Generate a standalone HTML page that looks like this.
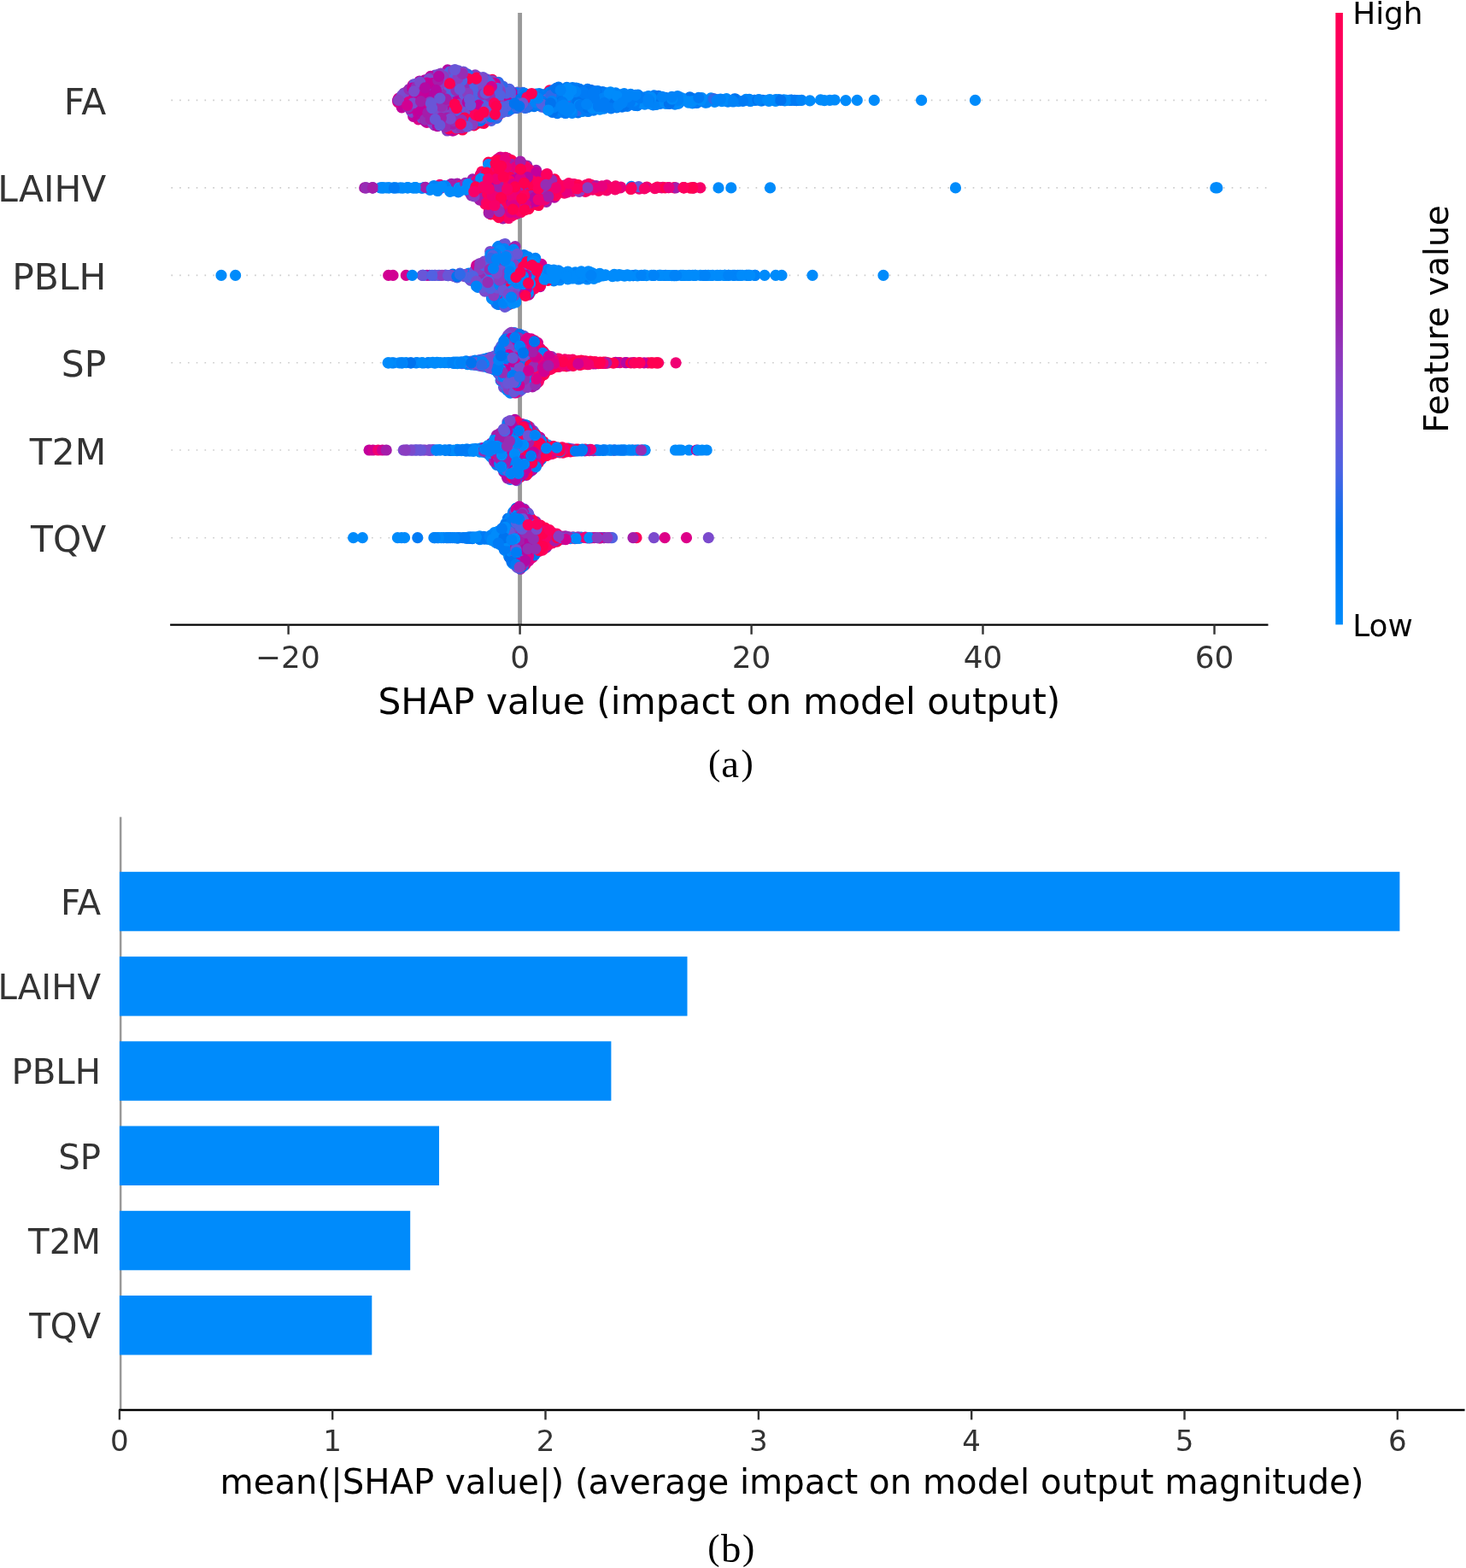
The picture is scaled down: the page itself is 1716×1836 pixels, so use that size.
<!DOCTYPE html>
<html lang="en"><head><meta charset="utf-8"><title>SHAP summary plots</title>
<style>html,body{margin:0;padding:0;background:#fff}body{width:1716px;height:1836px;overflow:hidden}svg{display:block}text{font-family:"DejaVu Sans","Liberation Sans",sans-serif}.t{fill:#333}.k{fill:#000}.s{font-family:"Liberation Serif","DejaVu Serif",serif;fill:#000}</style></head><body>
<svg width="1716" height="1836" viewBox="0 0 1716 1836">
<rect width="1716" height="1836" fill="#fff"/>
<defs><linearGradient id="cb" x1="0" y1="1" x2="0" y2="0">
<stop offset="0" stop-color="#008bfb"/>
<stop offset="0.05" stop-color="#0084f9"/>
<stop offset="0.1" stop-color="#007cf5"/>
<stop offset="0.15" stop-color="#0074f0"/>
<stop offset="0.2" stop-color="#236cea"/>
<stop offset="0.25" stop-color="#4b63e3"/>
<stop offset="0.3" stop-color="#6359da"/>
<stop offset="0.35" stop-color="#754fd1"/>
<stop offset="0.4" stop-color="#8443c6"/>
<stop offset="0.45" stop-color="#9135ba"/>
<stop offset="0.5" stop-color="#9b23ad"/>
<stop offset="0.55" stop-color="#ab15a7"/>
<stop offset="0.6" stop-color="#bb00a0"/>
<stop offset="0.65" stop-color="#c80098"/>
<stop offset="0.7" stop-color="#d5008f"/>
<stop offset="0.75" stop-color="#e00086"/>
<stop offset="0.8" stop-color="#e9007c"/>
<stop offset="0.85" stop-color="#f20072"/>
<stop offset="0.9" stop-color="#f90067"/>
<stop offset="0.95" stop-color="#fe005c"/>
<stop offset="1" stop-color="#ff0051"/>
</linearGradient></defs>
<g id="beeswarm">
<line x1="608.6" y1="15.0" x2="608.6" y2="731.4" stroke="#999" stroke-width="4.9"/>
<line x1="200.4" y1="117.4" x2="1484.5" y2="117.4" stroke="#ccc" stroke-width="1.63" stroke-dasharray="1.63 8.144"/>
<line x1="200.4" y1="219.9" x2="1484.5" y2="219.9" stroke="#ccc" stroke-width="1.63" stroke-dasharray="1.63 8.144"/>
<line x1="200.4" y1="322.4" x2="1484.5" y2="322.4" stroke="#ccc" stroke-width="1.63" stroke-dasharray="1.63 8.144"/>
<line x1="200.4" y1="424.8" x2="1484.5" y2="424.8" stroke="#ccc" stroke-width="1.63" stroke-dasharray="1.63 8.144"/>
<line x1="200.4" y1="527.0" x2="1484.5" y2="527.0" stroke="#ccc" stroke-width="1.63" stroke-dasharray="1.63 8.144"/>
<line x1="200.4" y1="629.7" x2="1484.5" y2="629.7" stroke="#ccc" stroke-width="1.63" stroke-dasharray="1.63 8.144"/>
<g fill="none" stroke-width="13.2" stroke-linecap="round">
<path stroke="#d10092" d="M542.6 133.5h0"/>
<path stroke="#c3009b" d="M486.6 112.7h0M514.9 130.2h0M565.6 97.5h0M504.9 143.1h0M506.1 110.4h0M532.4 140.5h0M570.0 120.9h0M534.5 104.7h0M497.4 100.5h0"/>
<path stroke="#008bfb" d="M777.6 118.4h0M685.8 118.6h0M873.2 116.4h0M793.3 119.9h0M800.9 116.0h0M781.9 119.5h0M731.1 118.5h0M737.5 122.1h0M833.5 116.1h0M791.0 118.6h0M811.0 116.2h0M708.4 122.9h0"/>
<path stroke="#fe005d" d="M606.4 117.4h0M577.5 131.4h0"/>
<path stroke="#8a3dc1" d="M470.7 122.2h0M521.5 109.3h0M534.0 147.5h0M539.1 108.2h0M502.8 118.6h0M553.4 142.4h0M553.4 90.1h0M519.4 111.6h0M485.0 124.5h0M531.4 119.7h0M544.3 123.1h0"/>
<path stroke="#5261e1" d="M610.1 122.0h0M542.4 92.0h0M522.9 111.7h0M559.7 100.2h0M634.0 125.1h0M568.6 102.2h0M553.8 94.7h0M580.8 123.2h0M591.3 122.1h0M547.4 114.0h0M557.9 140.3h0M591.5 119.8h0M603.5 125.9h0"/>
<path stroke="#b408a3" d="M545.7 112.8h0M509.4 145.4h0M486.5 113.9h0M543.1 127.8h0M471.0 121.0h0M531.8 83.9h0M498.6 94.9h0M567.7 105.7h0M495.5 106.8h0M558.5 120.8h0"/>
<path stroke="#007bf5" d="M764.2 116.3h0M638.3 118.6h0M665.9 125.4h0M816.9 115.3h0M764.3 118.5h0M631.1 109.7h0M670.1 104.8h0M675.7 115.2h0M746.1 123.6h0M736.3 112.7h0M743.6 123.5h0M709.2 118.5h0M681.2 125.7h0M618.4 124.2h0M670.4 123.1h0"/>
<path stroke="#a41daa" d="M517.6 93.1h0M540.4 117.4h0M600.9 122.3h0"/>
<path stroke="#ff0051" d="M503.2 106.9h0M552.4 124.2h0M544.7 118.5h0M546.1 96.8h0M585.8 124.4h0M571.2 116.3h0M528.3 87.6h0M537.4 130.1h0M565.6 117.4h0"/>
<path stroke="#6956d7" d="M541.7 103.6h0M508.9 105.7h0M565.4 90.5h0M477.0 116.2h0M555.6 132.2h0M541.9 110.5h0M544.0 101.4h0M565.1 115.1h0M498.8 106.1h0"/>
<path stroke="#7b4acd" d="M502.5 91.5h0M528.3 132.3h0M506.6 123.2h0M506.4 90.5h0M546.9 130.0h0M512.7 99.9h0M526.5 110.5h0M490.5 100.9h0"/>
<path stroke="#0083f8" d="M924.1 117.4h0M816.0 116.4h0M743.4 116.2h0M645.4 129.1h0M614.3 116.3h0M698.5 123.3h0M850.6 118.3h0M697.6 125.7h0M670.6 112.8h0M733.6 120.9h0M778.1 117.4h0M732.5 116.2h0M728.1 116.3h0M705.8 113.0h0M635.7 116.3h0"/>
<path stroke="#2f6ae9" d="M528.2 83.0h0M597.8 115.0h0M848.1 116.5h0M635.4 124.0h0M589.1 116.2h0"/>
<path stroke="#962db4" d="M485.2 123.3h0M535.2 85.0h0M484.4 119.8h0M493.9 97.4h0M494.0 137.4h0M565.0 143.1h0M511.8 140.7h0M541.9 93.2h0M524.8 120.8h0"/>
<path stroke="#dd0088" d="M499.6 143.3h0M488.4 110.3h0M507.5 124.4h0"/>
<path stroke="#0073ef" d="M779.0 114.4h0M679.7 129.3h0M648.5 127.9h0M728.1 125.2h0M613.9 124.2h0M571.9 100.3h0M614.5 118.5h0M699.8 117.4h0M652.8 131.5h0"/>
<path stroke="#d10092" d="M500.8 103.9h0"/>
<path stroke="#b408a3" d="M531.3 148.6h0M520.5 139.4h0M523.8 94.4h0M523.9 81.8h0M500.8 133.2h0M565.9 112.7h0M482.4 129.2h0M489.9 102.1h0"/>
<path stroke="#0083f8" d="M908.1 116.6h0M716.0 121.0h0M652.3 115.1h0M686.3 115.0h0M743.7 115.0h0M906.0 117.4h0M872.8 117.4h0M586.4 103.3h0M682.2 126.9h0M861.2 116.1h0M685.6 127.0h0M650.9 104.5h0M673.3 121.8h0M754.7 113.8h0M795.2 113.6h0M804.2 117.4h0"/>
<path stroke="#0073ef" d="M926.3 117.2h0M672.8 109.6h0M646.1 113.9h0M579.6 136.1h0M548.1 106.0h0"/>
<path stroke="#5261e1" d="M535.2 137.1h0M513.8 133.7h0M472.1 124.6h0M593.2 105.6h0M585.6 113.9h0M504.8 140.8h0M578.9 104.6h0M571.0 131.1h0M552.2 121.9h0M558.1 93.3h0M567.2 96.4h0M601.5 110.1h0"/>
<path stroke="#8a3dc1" d="M523.6 130.0h0M524.8 116.3h0M472.1 115.0h0M500.2 108.4h0M502.5 105.0h0M558.3 132.3h0M502.7 132.6h0M509.5 141.9h0M498.8 130.9h0M526.8 140.4h0"/>
<path stroke="#dd0088" d="M522.5 131.3h0M489.7 139.8h0"/>
<path stroke="#fe005d" d="M575.3 132.3h0M530.1 138.2h0"/>
<path stroke="#2f6ae9" d="M617.0 125.4h0M625.8 117.4h0M582.7 110.4h0"/>
<path stroke="#ff0051" d="M555.3 106.0h0M544.0 98.0h0M572.1 111.7h0M566.4 144.3h0M612.5 111.7h0M529.0 99.0h0M556.3 115.1h0M607.0 113.9h0M576.3 93.4h0M575.6 103.7h0M559.3 128.9h0M575.6 110.5h0M563.5 95.2h0"/>
<path stroke="#7b4acd" d="M528.9 95.6h0M569.9 138.4h0M569.8 92.9h0M549.6 111.7h0M509.2 88.2h0M538.1 109.3h0M531.0 110.5h0M544.5 131.1h0M491.5 109.2h0M556.5 89.0h0M481.9 129.1h0M557.8 144.9h0M570.9 123.1h0"/>
<path stroke="#962db4" d="M518.9 127.8h0M524.8 125.4h0M508.9 109.2h0M550.5 92.4h0M503.3 96.4h0M521.5 95.4h0M487.4 115.0h0M548.5 103.7h0M519.7 144.0h0"/>
<path stroke="#a41daa" d="M534.1 120.9h0M521.8 125.5h0"/>
<path stroke="#6956d7" d="M558.3 105.9h0M616.9 123.1h0M541.5 150.8h0M494.0 124.5h0M538.7 119.7h0M542.9 89.7h0"/>
<path stroke="#008bfb" d="M883.5 117.4h0M699.2 107.9h0M809.7 117.4h0M713.6 118.6h0M836.5 119.3h0M759.6 113.0h0M779.2 121.4h0"/>
<path stroke="#c3009b" d="M532.2 152.1h0M494.5 126.8h0M490.1 131.5h0M471.1 117.4h0M470.5 113.8h0M572.9 124.3h0M522.1 90.8h0M504.0 89.4h0M466.6 118.5h0M520.1 91.9h0M526.7 149.5h0"/>
<path stroke="#007bf5" d="M721.9 125.9h0M612.4 110.6h0M725.7 115.2h0M838.4 116.5h0M709.7 117.4h0M652.1 109.2h0M689.4 121.0h0M653.2 129.1h0M609.1 111.6h0M795.7 118.7h0M680.2 109.1h0M719.7 116.2h0M705.2 119.8h0M774.8 115.4h0M806.7 114.6h0M682.4 113.8h0M637.1 115.2h0M772.8 121.3h0M657.8 120.9h0M652.3 132.7h0M681.1 110.3h0M697.5 118.6h0M653.8 102.1h0"/>
<path stroke="#ff0051" d="M570.5 135.7h0M607.9 119.7h0M571.6 108.3h0M579.0 126.7h0M536.9 112.8h0M550.7 111.7h0M586.6 109.2h0"/>
<path stroke="#b408a3" d="M525.3 118.5h0M511.4 134.9h0M489.8 128.0h0M533.9 134.7h0M486.9 135.1h0M524.1 108.2h0"/>
<path stroke="#0073ef" d="M705.3 109.1h0M674.3 106.3h0M566.0 126.7h0M677.1 104.1h0M568.3 94.0h0M601.1 112.5h0M672.5 127.4h0M635.3 110.8h0M617.2 121.9h0M821.1 118.7h0M751.9 116.2h0M625.2 124.6h0"/>
<path stroke="#dd0088" d="M468.6 116.3h0"/>
<path stroke="#a41daa" d="M515.6 98.7h0M511.7 95.2h0"/>
<path stroke="#7b4acd" d="M519.3 137.1h0M516.0 97.6h0M525.2 102.5h0M526.7 93.3h0M550.9 127.6h0M513.8 106.9h0M537.6 128.9h0M534.9 112.8h0M535.0 116.2h0"/>
<path stroke="#d10092" d="M483.2 99.7h0M515.2 102.2h0"/>
<path stroke="#008bfb" d="M682.3 106.7h0M805.8 120.2h0M720.0 124.7h0M875.8 117.4h0M741.8 121.1h0M907.2 118.2h0M832.2 114.8h0M656.6 108.0h0M936.2 117.5h0M777.1 116.4h0M754.0 117.4h0M756.2 115.0h0M728.6 114.1h0"/>
<path stroke="#c3009b" d="M565.6 141.9h0M485.5 130.4h0M521.6 98.9h0M495.7 123.3h0M492.2 136.2h0M478.4 106.8h0M530.0 153.2h0M556.6 139.0h0M478.3 115.1h0"/>
<path stroke="#962db4" d="M496.1 120.8h0M526.7 91.0h0M578.7 122.1h0M528.6 142.7h0M538.6 120.9h0"/>
<path stroke="#fe005d" d="M578.9 129.1h0M525.1 124.3h0"/>
<path stroke="#2f6ae9" d="M588.3 126.8h0M652.1 125.6h0M598.2 116.2h0M629.9 121.0h0M576.4 107.1h0M648.9 122.1h0M697.7 116.2h0"/>
<path stroke="#5261e1" d="M542.7 147.4h0M596.3 104.4h0M605.5 108.2h0M598.6 117.4h0M572.4 102.5h0M487.4 104.4h0M549.0 135.7h0"/>
<path stroke="#8a3dc1" d="M512.9 108.1h0M523.5 153.0h0M525.1 148.4h0M526.2 101.3h0M566.1 103.4h0M511.9 129.1h0M515.5 136.1h0M561.4 133.5h0M518.8 117.4h0M575.3 119.7h0M492.9 103.3h0"/>
<path stroke="#0083f8" d="M777.8 119.4h0M640.4 109.3h0M882.9 117.4h0M641.5 113.9h0M682.7 128.1h0M769.9 113.5h0M668.3 127.7h0M668.8 114.0h0M852.0 119.2h0M662.9 115.1h0M646.7 115.1h0M691.3 119.8h0M669.5 103.6h0M694.8 129.2h0M788.7 119.8h0M654.3 117.4h0M744.5 112.5h0M748.8 117.4h0M790.0 122.2h0"/>
<path stroke="#6956d7" d="M563.7 130.3h0M534.6 146.3h0M559.0 89.9h0M545.2 132.3h0M582.5 118.6h0M560.2 130.0h0M522.2 113.9h0M509.3 113.9h0M595.3 115.0h0M582.7 119.7h0M533.2 93.1h0M578.7 98.7h0M568.9 111.6h0M528.0 114.0h0M569.9 137.3h0M595.9 129.2h0M534.0 133.6h0M572.4 127.7h0M542.9 101.3h0M572.9 126.5h0M550.7 131.0h0M589.0 130.3h0"/>
<path stroke="#007bf5" d="M717.0 125.7h0M674.9 125.2h0M704.1 116.2h0M641.6 124.4h0M720.0 110.1h0M598.8 118.6h0M629.0 123.4h0M932.2 117.6h0M619.2 114.0h0"/>
<path stroke="#2f6ae9" d="M673.8 117.4h0M692.2 105.6h0M627.7 116.2h0"/>
<path stroke="#fe005d" d="M552.0 144.7h0"/>
<path stroke="#d10092" d="M580.3 112.7h0M528.8 141.5h0M485.6 132.7h0M514.5 143.1h0M500.0 137.7h0M490.2 111.5h0"/>
<path stroke="#e7007e" d="M488.8 108.0h0"/>
<path stroke="#0083f8" d="M720.7 108.9h0M754.7 122.2h0M698.8 122.2h0M730.8 122.9h0M794.4 121.2h0M727.3 113.0h0M575.5 133.4h0M660.4 104.6h0M814.3 118.4h0M676.7 118.5h0M783.7 116.4h0M716.4 122.1h0M728.2 111.9h0M647.2 117.4h0"/>
<path stroke="#007bf5" d="M814.2 119.5h0M705.3 112.6h0M926.3 117.3h0M734.3 124.4h0M735.7 123.2h0M781.5 120.5h0M608.4 112.8h0M699.8 106.7h0M621.7 118.5h0M612.7 117.4h0M687.6 117.4h0M662.8 112.8h0M680.2 115.0h0"/>
<path stroke="#962db4" d="M541.3 139.3h0M514.0 116.2h0M532.6 103.5h0"/>
<path stroke="#0073ef" d="M688.7 123.4h0M667.3 115.1h0M645.6 130.3h0M652.0 110.4h0M649.7 119.7h0M621.3 117.4h0M618.1 125.3h0M611.9 119.7h0M699.4 121.0h0M790.2 117.4h0"/>
<path stroke="#c3009b" d="M506.4 101.0h0M557.3 107.1h0M533.7 115.1h0M554.5 103.8h0M503.7 104.5h0M488.9 122.1h0M483.7 136.3h0M528.9 86.4h0M543.1 115.1h0M470.2 125.8h0M504.0 127.9h0"/>
<path stroke="#b408a3" d="M500.7 129.8h0M532.6 95.4h0M527.9 122.0h0M499.7 123.0h0"/>
<path stroke="#008bfb" d="M766.7 116.1h0M689.3 109.0h0M810.5 120.9h0M795.0 116.1h0M783.8 115.3h0M658.4 117.4h0M703.7 110.3h0M753.8 121.0h0"/>
<path stroke="#7b4acd" d="M556.4 140.1h0M505.6 122.1h0M491.0 113.9h0M534.6 127.8h0M584.2 117.4h0M526.8 146.1h0M494.3 138.6h0M521.3 129.0h0M511.4 92.9h0"/>
<path stroke="#5261e1" d="M581.0 127.9h0M598.7 119.8h0M507.2 141.9h0M575.0 141.4h0M595.3 106.8h0M619.6 120.8h0M564.0 133.8h0M562.3 127.7h0M589.5 112.7h0M562.7 99.0h0M520.0 112.8h0M580.3 130.2h0M579.6 117.4h0M579.2 102.2h0M545.6 120.8h0M575.4 109.4h0M517.1 100.0h0M588.7 101.0h0"/>
<path stroke="#8a3dc1" d="M555.2 91.3h0M474.6 119.8h0M523.2 109.4h0M543.3 94.5h0M507.0 111.6h0M525.7 88.7h0M537.2 142.8h0M562.6 95.6h0M512.1 119.7h0M589.6 110.4h0M489.9 122.1h0M485.7 125.7h0M574.9 118.5h0M576.1 94.5h0"/>
<path stroke="#a41daa" d="M508.6 146.6h0M534.6 144.0h0M512.4 111.6h0"/>
<path stroke="#ff0051" d="M565.3 134.9h0M571.2 130.0h0M582.3 132.6h0M557.2 122.0h0M534.2 102.4h0M547.2 136.8h0M534.4 123.2h0M559.0 124.3h0M546.7 134.5h0M566.0 116.2h0M543.2 93.4h0"/>
<path stroke="#dd0088" d="M475.6 108.0h0M497.5 116.3h0M465.8 119.6h0"/>
<path stroke="#6956d7" d="M515.8 126.7h0M555.7 135.6h0M514.3 113.9h0M545.1 108.3h0M594.3 116.2h0M480.2 117.4h0M542.5 84.0h0M554.1 99.2h0M607.9 110.5h0M481.7 112.7h0M602.3 124.7h0"/>
<path stroke="#b408a3" d="M526.8 151.8h0M589.0 129.1h0M465.5 117.4h0M519.3 135.9h0M506.6 130.3h0M521.9 147.5h0M506.9 108.1h0"/>
<path stroke="#f80068" d="M620.9 121.9h0"/>
<path stroke="#7b4acd" d="M546.6 86.6h0M570.9 140.3h0M522.6 108.1h0M535.3 142.8h0M528.8 115.1h0M483.8 111.5h0"/>
<path stroke="#ff0051" d="M584.1 132.6h0M525.2 150.7h0M541.4 152.0h0M541.9 95.5h0M585.8 120.9h0M558.8 125.4h0M554.9 146.9h0M547.2 115.1h0M533.7 124.3h0M540.5 134.7h0M533.0 150.9h0M526.1 89.9h0M567.5 140.8h0"/>
<path stroke="#0073ef" d="M717.7 119.8h0M642.3 122.0h0M559.1 101.3h0M625.3 112.6h0M642.8 127.8h0M669.3 110.5h0M662.5 108.1h0M671.5 118.5h0M736.4 117.4h0M668.8 131.2h0M705.5 107.6h0M681.5 118.6h0M659.2 126.7h0"/>
<path stroke="#8a3dc1" d="M551.5 143.5h0M532.3 98.9h0M483.1 131.6h0M535.8 94.3h0M479.0 111.5h0M501.5 141.0h0M566.5 108.1h0M556.2 87.9h0M520.5 88.4h0M534.7 113.9h0M516.2 132.5h0M513.6 103.4h0"/>
<path stroke="#e7007e" d="M494.8 99.7h0"/>
<path stroke="#962db4" d="M513.2 104.6h0M516.8 142.9h0"/>
<path stroke="#008bfb" d="M891.2 118.1h0M864.3 118.7h0M707.0 116.3h0M838.6 118.3h0M908.5 118.1h0"/>
<path stroke="#5261e1" d="M554.0 95.8h0M547.8 133.4h0M558.3 116.3h0M560.2 111.7h0M537.9 96.6h0M594.4 130.4h0M636.2 122.9h0M605.9 115.1h0M599.8 127.1h0M593.9 113.9h0M684.3 112.6h0M623.8 116.3h0"/>
<path stroke="#d10092" d="M513.6 88.2h0M563.3 142.6h0"/>
<path stroke="#0083f8" d="M758.9 112.6h0M636.5 120.7h0M758.3 118.6h0M670.8 119.7h0M644.3 107.0h0M674.4 103.0h0M689.4 124.6h0M724.1 111.3h0M813.2 119.7h0M721.4 117.4h0M878.3 118.5h0M633.9 119.6h0M832.8 117.4h0M689.9 116.2h0M619.6 119.7h0M722.7 113.7h0M713.9 115.0h0"/>
<path stroke="#007bf5" d="M624.6 122.2h0M566.4 98.7h0M706.2 111.9h0M656.5 106.8h0M678.4 116.3h0M771.9 118.7h0M659.6 105.8h0M687.7 104.3h0M681.5 116.2h0M696.3 117.4h0M626.4 113.8h0M765.7 111.9h0M621.1 112.9h0M675.6 110.7h0M672.8 113.0h0M749.5 113.7h0M746.4 122.4h0M723.7 118.6h0M668.4 124.3h0M635.3 113.0h0"/>
<path stroke="#6956d7" d="M532.6 86.2h0M545.9 146.0h0M525.9 119.7h0M572.0 125.4h0M560.3 139.2h0M582.7 116.2h0M500.0 138.8h0M576.5 122.0h0M592.3 120.9h0"/>
<path stroke="#c3009b" d="M560.7 104.8h0M538.8 99.0h0M555.8 137.8h0M497.7 114.0h0M502.4 118.5h0M515.9 132.6h0M591.1 126.8h0M526.2 85.3h0M526.9 123.1h0M496.5 112.9h0M488.7 133.9h0M509.0 134.9h0M480.5 105.7h0"/>
<path stroke="#a41daa" d="M535.7 90.8h0M521.1 94.2h0M516.3 87.3h0M518.0 120.9h0M528.7 126.6h0"/>
<path stroke="#2f6ae9" d="M614.8 126.5h0M548.1 87.7h0M595.2 117.4h0M596.8 111.5h0M588.1 102.2h0"/>
<path stroke="#e7007e" d="M494.5 110.3h0"/>
<path stroke="#2f6ae9" d="M763.1 120.7h0M618.2 123.0h0M583.4 96.4h0M647.4 106.9h0"/>
<path stroke="#d10092" d="M486.9 128.0h0"/>
<path stroke="#007bf5" d="M698.3 110.3h0M678.5 104.3h0M643.7 110.4h0M698.9 115.0h0M708.8 108.7h0M674.0 120.7h0M764.5 122.9h0M641.1 125.5h0M661.6 111.6h0M605.6 109.3h0M809.8 115.1h0M664.0 109.3h0M701.6 111.5h0M930.2 117.4h0M697.5 124.5h0M627.2 118.6h0M643.2 112.8h0M575.4 138.0h0M666.0 120.8h0M646.0 108.0h0"/>
<path stroke="#a41daa" d="M499.1 107.3h0M511.0 138.4h0"/>
<path stroke="#962db4" d="M588.6 123.3h0M507.4 136.1h0M513.7 112.7h0M550.6 107.2h0M555.2 97.0h0M525.5 134.6h0"/>
<path stroke="#ff0051" d="M585.6 108.0h0M562.1 103.6h0M551.4 93.5h0M543.2 140.3h0M562.6 118.5h0M552.7 114.0h0M538.1 143.9h0M580.9 108.1h0M563.3 143.8h0"/>
<path stroke="#6956d7" d="M556.3 101.5h0M524.6 133.5h0M595.7 110.3h0M483.8 126.8h0M494.8 135.1h0M547.5 104.8h0M573.0 114.0h0M509.7 117.4h0M508.6 94.0h0M553.8 112.9h0M493.9 117.4h0M536.5 82.8h0M530.0 101.2h0"/>
<path stroke="#8a3dc1" d="M547.5 124.3h0M496.9 136.5h0M500.8 101.6h0M524.0 117.4h0M515.6 109.2h0M557.3 109.4h0M487.8 109.1h0M493.9 112.7h0M509.2 95.2h0M544.7 117.4h0M535.0 111.6h0M550.6 128.8h0M476.1 124.4h0M519.9 122.0h0M532.0 139.4h0M534.3 89.7h0"/>
<path stroke="#7b4acd" d="M542.5 90.9h0M478.8 122.1h0M531.8 109.3h0M535.5 88.5h0M557.6 134.6h0"/>
<path stroke="#0073ef" d="M562.5 96.7h0M892.9 117.4h0M674.8 130.7h0M807.5 113.9h0M654.3 118.6h0M676.6 131.8h0"/>
<path stroke="#008bfb" d="M746.4 119.9h0M671.8 114.1h0M805.3 118.8h0M665.2 122.0h0M861.8 117.4h0M900.0 118.3h0M798.1 114.9h0"/>
<path stroke="#5261e1" d="M543.9 99.1h0M562.2 108.2h0M583.1 99.9h0M594.8 112.7h0M474.6 116.2h0M543.1 97.8h0M554.7 133.3h0M565.5 119.7h0M558.2 94.5h0M584.4 119.7h0M608.2 125.5h0M501.5 117.4h0M607.8 123.2h0"/>
<path stroke="#0083f8" d="M741.0 119.8h0M726.8 110.8h0M790.5 115.0h0M652.9 111.5h0M769.7 117.4h0M715.7 123.3h0M660.3 122.0h0M726.2 117.4h0M664.4 116.2h0M656.5 116.2h0M736.3 115.1h0M689.5 110.2h0M746.8 111.2h0M689.9 106.7h0M681.6 130.5h0M683.5 111.4h0M877.1 116.3h0M627.3 110.2h0M654.2 112.7h0M713.9 110.3h0M723.6 122.3h0M792.9 113.8h0"/>
<path stroke="#c3009b" d="M482.8 117.4h0M504.6 137.3h0M492.2 130.3h0M546.9 122.0h0M523.1 135.8h0M500.1 115.1h0M491.1 120.9h0M482.1 110.4h0M506.7 131.4h0M481.4 128.0h0M502.8 92.9h0M600.9 113.8h0"/>
<path stroke="#fe005d" d="M643.3 105.8h0M528.1 105.9h0"/>
<path stroke="#b408a3" d="M501.1 127.5h0M543.3 88.8h0M551.7 100.4h0M491.4 116.2h0"/>
<path stroke="#d10092" d="M517.5 119.7h0M489.4 125.6h0"/>
<path stroke="#f80068" d="M568.9 99.9h0M611.7 115.1h0"/>
<path stroke="#fe005d" d="M537.4 111.6h0M543.4 127.7h0"/>
<path stroke="#007bf5" d="M672.7 128.5h0M729.7 121.8h0M638.3 117.4h0M724.9 115.0h0M705.8 109.8h0M642.3 123.2h0M845.7 117.4h0M579.2 106.9h0M708.4 126.1h0M579.1 137.3h0M768.0 120.0h0M706.6 121.8h0M688.9 112.6h0M646.1 123.3h0M661.9 129.0h0M657.0 128.0h0M747.2 112.4h0M634.9 111.9h0M706.0 123.9h0M670.1 102.5h0"/>
<path stroke="#e7007e" d="M485.6 116.2h0"/>
<path stroke="#b408a3" d="M599.6 108.9h0M496.3 119.7h0M497.2 93.8h0M505.3 98.7h0M497.9 142.2h0"/>
<path stroke="#5261e1" d="M541.6 126.6h0M556.9 114.0h0M572.4 99.1h0M597.5 107.7h0M558.1 97.9h0M573.5 117.4h0M514.4 144.2h0M588.4 127.9h0M522.9 96.7h0M493.3 98.6h0M551.5 126.5h0"/>
<path stroke="#8a3dc1" d="M525.3 92.1h0M522.5 134.8h0M528.8 143.8h0M562.3 112.8h0M561.1 126.6h0M572.7 139.1h0M537.9 132.4h0M521.6 145.2h0"/>
<path stroke="#0083f8" d="M705.0 113.8h0M786.5 114.3h0M649.1 112.7h0M706.9 127.2h0M738.2 110.4h0M675.9 124.1h0M717.9 113.8h0M673.0 126.3h0M657.7 130.3h0M697.1 120.9h0M918.6 117.8h0M911.8 116.7h0"/>
<path stroke="#2f6ae9" d="M611.9 108.3h0M646.9 120.9h0M668.0 130.0h0M581.5 138.4h0M643.0 115.1h0M621.1 115.1h0M553.2 109.4h0M645.0 110.4h0M590.0 122.1h0"/>
<path stroke="#c3009b" d="M533.5 118.6h0M579.3 97.5h0M511.9 110.4h0M518.6 107.0h0M533.2 100.1h0M496.2 134.3h0M537.6 131.2h0M511.6 96.4h0M476.9 120.9h0"/>
<path stroke="#008bfb" d="M713.1 111.5h0M660.1 125.5h0M752.2 121.1h0M714.5 107.9h0M649.7 124.4h0"/>
<path stroke="#ff0051" d="M567.6 136.1h0M577.4 101.0h0M584.4 133.8h0M548.3 126.5h0M578.2 125.6h0M561.6 110.5h0M573.6 134.5h0"/>
<path stroke="#6956d7" d="M564.7 139.6h0M565.2 118.6h0M538.8 125.5h0M524.2 131.2h0M511.0 90.6h0M528.2 127.7h0M538.7 118.6h0M551.3 102.6h0M522.7 110.4h0M564.1 113.9h0M533.3 108.2h0M554.3 108.3h0M540.6 137.0h0M509.8 127.9h0M532.9 131.3h0M582.8 134.9h0"/>
<path stroke="#962db4" d="M521.2 133.6h0M505.0 115.1h0M535.1 135.9h0M519.6 101.2h0M518.3 103.5h0M513.0 131.4h0M507.1 102.2h0"/>
<path stroke="#0073ef" d="M688.5 107.8h0M609.4 118.6h0M554.0 98.1h0M670.2 109.4h0M601.3 123.5h0M698.0 107.9h0M653.5 103.3h0"/>
<path stroke="#dd0088" d="M503.4 112.7h0"/>
<path stroke="#7b4acd" d="M552.1 116.3h0M597.2 125.6h0M501.7 135.4h0M516.4 140.6h0M506.6 144.3h0M534.9 96.6h0M524.4 128.9h0M500.1 125.3h0M519.1 104.7h0M513.4 87.1h0M583.6 111.6h0M522.7 130.1h0M534.9 125.5h0M481.5 130.3h0M498.9 99.4h0M539.0 105.9h0"/>
<path stroke="#a41daa" d="M535.3 130.1h0M513.0 124.4h0M506.1 117.4h0"/>
<path stroke="#a41daa" d="M518.4 115.1h0M511.8 137.2h0M481.4 109.2h0M518.3 105.8h0M499.3 98.3h0"/>
<path stroke="#ff0051" d="M549.8 107.1h0M543.1 100.1h0M539.9 87.4h0M575.7 115.1h0M542.3 116.2h0M557.9 91.0h0M547.0 141.4h0M573.5 96.8h0"/>
<path stroke="#fe005d" d="M547.9 143.7h0M557.0 136.9h0"/>
<path stroke="#008bfb" d="M822.7 116.1h0M793.0 121.0h0M850.4 115.6h0M718.1 112.7h0M845.0 118.7h0M827.4 120.0h0M711.7 114.1h0M752.5 118.6h0M761.8 121.8h0"/>
<path stroke="#0073ef" d="M679.4 105.5h0M649.8 109.2h0M859.7 115.8h0M608.8 116.2h0M692.7 112.7h0M688.9 113.8h0M633.7 117.4h0M690.7 105.5h0M693.7 128.0h0M887.0 117.1h0M661.3 110.4h0M562.0 141.5h0"/>
<path stroke="#7b4acd" d="M474.6 110.2h0M538.6 146.2h0M526.6 112.8h0M545.6 102.5h0M540.5 124.3h0M535.6 97.7h0M499.5 110.6h0M491.4 105.6h0"/>
<path stroke="#dd0088" d="M470.1 118.6h0"/>
<path stroke="#0083f8" d="M708.4 119.6h0M698.3 113.9h0M684.3 119.8h0M819.9 117.4h0M659.2 131.3h0M888.5 116.7h0M670.5 107.1h0M718.8 117.4h0M793.1 112.6h0M825.6 120.1h0M664.0 106.9h0M828.3 118.7h0M769.0 114.8h0M639.8 111.6h0M717.6 124.5h0"/>
<path stroke="#8a3dc1" d="M534.8 117.4h0M527.2 136.9h0M528.9 104.8h0M492.9 104.5h0M516.1 86.1h0M524.6 147.2h0M534.4 149.8h0"/>
<path stroke="#6956d7" d="M597.4 111.3h0M543.9 91.1h0M585.3 104.5h0M562.4 102.5h0M560.5 115.1h0M548.3 100.3h0M550.1 129.9h0M547.9 142.5h0M581.9 113.9h0M589.8 115.1h0M482.8 105.6h0M549.4 139.1h0M539.5 135.8h0"/>
<path stroke="#962db4" d="M501.9 124.2h0M521.2 102.3h0M534.6 132.4h0M576.8 128.8h0M504.4 91.7h0"/>
<path stroke="#c3009b" d="M479.7 118.6h0M548.5 147.1h0M491.7 115.0h0M525.7 144.9h0M593.4 118.6h0M521.1 123.2h0M556.4 120.8h0M487.3 100.9h0"/>
<path stroke="#2f6ae9" d="M596.0 123.3h0M625.2 111.4h0M647.9 116.2h0M675.4 129.6h0M835.3 115.5h0"/>
<path stroke="#b408a3" d="M491.2 119.8h0M491.1 95.0h0M527.9 103.6h0M566.1 123.2h0M470.8 112.6h0"/>
<path stroke="#007bf5" d="M574.8 136.8h0M596.9 128.0h0M658.3 113.9h0M681.5 124.5h0M662.8 120.9h0M686.6 128.1h0M655.1 113.9h0M710.4 110.9h0M696.7 106.8h0M673.1 108.5h0M682.6 117.4h0M702.0 125.7h0M670.4 117.4h0M687.9 111.4h0M682.8 107.9h0M692.7 111.5h0M663.5 102.3h0M646.3 126.8h0M782.2 118.4h0M655.6 126.8h0M742.2 122.3h0M643.0 108.1h0M635.2 114.1h0M671.8 105.2h0"/>
<path stroke="#d10092" d="M477.8 113.9h0"/>
<path stroke="#5261e1" d="M556.6 110.6h0M640.5 116.2h0M547.3 95.7h0M620.1 111.8h0M592.7 124.5h0M584.3 105.7h0M592.7 109.2h0M588.3 131.5h0M526.4 84.1h0M539.6 107.0h0M554.2 117.4h0M564.5 122.1h0M569.3 124.4h0M558.6 117.4h0M596.4 108.0h0"/>
<path stroke="#007bf5" d="M653.3 104.5h0M614.1 109.4h0M700.0 126.9h0M730.6 119.6h0M620.9 110.6h0M678.7 121.0h0M659.7 124.4h0M686.0 129.3h0M733.6 118.6h0M763.7 115.2h0M668.3 116.3h0M661.9 132.5h0M675.3 111.9h0M688.3 130.5h0M815.6 120.5h0M634.5 118.5h0M745.8 113.7h0"/>
<path stroke="#d10092" d="M466.6 115.2h0M504.6 129.1h0"/>
<path stroke="#8a3dc1" d="M579.4 109.2h0M541.2 85.1h0M530.9 82.7h0M531.5 129.0h0M500.2 128.7h0M585.4 106.9h0M509.5 125.6h0M511.9 118.6h0M473.0 109.0h0M499.8 126.4h0M568.6 132.6h0M574.0 98.0h0M576.4 120.8h0M517.5 126.7h0M583.8 118.6h0M565.7 104.5h0"/>
<path stroke="#a41daa" d="M515.5 123.2h0M514.5 120.9h0M530.2 145.1h0M543.6 144.8h0M517.5 97.7h0M523.4 138.1h0"/>
<path stroke="#0073ef" d="M614.4 112.9h0M647.6 105.7h0M682.6 122.2h0M646.5 131.4h0M656.7 119.7h0M699.3 118.6h0M687.6 125.8h0M643.6 119.7h0M675.9 119.6h0"/>
<path stroke="#2f6ae9" d="M562.0 131.2h0M558.5 119.7h0M666.8 108.2h0M661.4 118.6h0M645.0 111.5h0M605.1 126.6h0M606.9 120.9h0"/>
<path stroke="#e7007e" d="M501.0 96.0h0"/>
<path stroke="#fe005d" d="M616.9 114.0h0M580.4 115.1h0M540.6 141.6h0"/>
<path stroke="#5261e1" d="M554.7 118.5h0M553.4 119.7h0M545.8 125.4h0M538.1 138.2h0M517.6 146.4h0M533.8 87.3h0M563.6 127.9h0M546.0 90.0h0M563.1 138.1h0M571.8 95.7h0M553.6 104.9h0M587.3 125.6h0M567.2 106.9h0M638.9 126.7h0"/>
<path stroke="#7b4acd" d="M566.6 101.0h0M470.7 111.4h0M501.9 92.6h0M509.0 145.4h0M512.5 101.1h0M505.6 103.4h0M565.1 91.7h0M549.0 128.8h0"/>
<path stroke="#c3009b" d="M519.9 141.7h0M536.7 113.9h0M532.1 107.0h0M483.5 118.6h0M560.4 123.1h0M497.8 109.5h0M489.6 132.7h0M581.5 105.7h0"/>
<path stroke="#0083f8" d="M793.5 117.4h0M648.0 125.6h0M730.6 109.6h0M646.0 118.6h0M626.7 119.8h0M673.9 107.4h0M719.7 119.8h0M717.1 116.2h0M741.7 118.6h0M767.8 122.5h0M762.9 119.6h0M856.7 117.4h0M737.4 111.6h0M783.7 117.4h0M705.9 115.2h0M692.9 122.1h0M669.7 132.3h0M694.8 119.8h0M700.0 123.3h0"/>
<path stroke="#ff0051" d="M543.7 138.0h0M548.3 92.3h0M555.4 136.7h0"/>
<path stroke="#6956d7" d="M485.0 98.5h0M543.2 110.5h0M524.7 100.2h0M611.9 120.8h0M537.0 88.6h0M539.8 123.2h0M542.3 148.5h0M506.6 99.9h0"/>
<path stroke="#962db4" d="M540.1 149.7h0M543.0 102.4h0M506.8 116.2h0M478.9 104.5h0M514.2 91.7h0M531.4 141.7h0"/>
<path stroke="#b408a3" d="M494.6 133.9h0M501.7 111.8h0M512.2 147.7h0"/>
<path stroke="#008bfb" d="M677.9 122.9h0M901.1 116.5h0M713.1 109.1h0M820.4 117.4h0M821.5 114.7h0M668.8 105.9h0M778.2 120.4h0M668.0 128.9h0M693.8 126.9h0M810.6 118.6h0M847.9 117.4h0M917.5 116.9h0M920.6 117.3h0"/>
<path stroke="#2f6ae9" d="M554.3 141.3h0"/>
<path stroke="#dd0088" d="M478.1 119.7h0M500.5 121.9h0"/>
<path stroke="#5261e1" d="M633.9 121.8h0M570.0 125.6h0M540.7 94.3h0M585.1 111.5h0M582.1 103.4h0M528.8 107.1h0"/>
<path stroke="#c3009b" d="M553.9 125.4h0M510.9 122.1h0M482.8 103.2h0M479.6 126.8h0M492.7 129.2h0M505.9 97.5h0M472.0 123.4h0M499.6 97.1h0M495.6 108.0h0"/>
<path stroke="#8a3dc1" d="M503.3 119.7h0M466.5 117.4h0M547.5 109.4h0M537.2 122.0h0M535.7 92.0h0M519.4 89.6h0M516.8 96.5h0M553.2 145.8h0"/>
<path stroke="#0073ef" d="M644.4 120.9h0M770.8 112.3h0M730.4 124.0h0M719.2 121.1h0M602.3 121.0h0M783.4 121.5h0M607.7 124.3h0M913.9 117.4h0M651.0 103.4h0"/>
<path stroke="#962db4" d="M497.5 139.9h0M477.9 125.6h0M487.3 102.1h0M521.0 148.7h0M521.7 118.6h0M533.9 105.8h0M573.3 112.8h0M565.5 110.4h0M509.0 138.4h0M541.3 86.3h0M508.9 125.6h0M516.9 124.4h0M540.2 140.5h0"/>
<path stroke="#008bfb" d="M641.8 129.0h0M665.2 111.7h0M898.6 117.4h0M762.3 114.1h0M702.1 128.1h0M786.8 116.2h0M722.1 112.5h0M741.8 117.4h0M664.7 103.5h0"/>
<path stroke="#007bf5" d="M869.6 118.4h0M658.2 119.7h0M657.8 122.1h0M715.2 126.9h0M817.8 114.3h0M759.6 117.4h0M695.5 115.0h0M707.3 120.7h0M700.3 124.5h0M656.9 123.3h0M748.6 114.9h0M706.6 125.0h0M931.8 117.5h0M737.4 119.7h0M694.3 109.1h0M679.1 123.4h0"/>
<path stroke="#7b4acd" d="M507.7 133.8h0M491.6 96.2h0M484.6 106.8h0M483.3 120.9h0M527.2 139.2h0"/>
<path stroke="#fe005d" d="M556.3 134.4h0M578.4 120.9h0"/>
<path stroke="#0083f8" d="M758.9 116.2h0M786.4 113.3h0M724.0 123.5h0M656.1 105.7h0M839.1 117.4h0M938.4 117.4h0M775.1 113.4h0M734.0 113.9h0M728.2 120.7h0M744.0 111.3h0M664.2 130.2h0M659.9 123.2h0M629.7 115.0h0M659.8 127.9h0M858.2 119.0h0M843.4 116.1h0M657.1 124.4h0M686.7 122.2h0M758.9 119.8h0M667.1 126.6h0"/>
<path stroke="#a41daa" d="M522.2 116.2h0M512.8 94.1h0M500.8 132.0h0M504.3 139.6h0M492.5 118.6h0M516.3 138.3h0"/>
<path stroke="#b408a3" d="M510.5 105.7h0M497.5 102.8h0M547.3 119.7h0M513.7 89.4h0"/>
<path stroke="#6956d7" d="M549.5 116.3h0M568.4 109.2h0M568.2 129.1h0M505.7 126.7h0M538.3 104.7h0M504.4 120.9h0M532.5 81.6h0M509.4 139.6h0M547.0 148.2h0M514.9 115.1h0M514.8 146.6h0M550.7 123.1h0"/>
<path stroke="#d10092" d="M572.6 104.8h0M575.4 101.4h0M476.7 123.3h0"/>
<path stroke="#ff0051" d="M572.1 106.0h0M557.4 92.2h0M566.2 131.4h0M532.2 122.0h0M622.3 109.5h0M539.3 145.1h0M580.8 124.4h0M526.4 97.9h0M560.6 135.8h0M534.4 126.6h0M579.4 133.8h0"/>
<path stroke="#008bfb" d="M948.0 117.9h0M960.5 116.9h0M965.0 117.7h0M971.3 117.4h0M977.0 117.0h0M990.0 117.7h0M1003.3 117.4h0M1023.3 117.4h0M1078.6 117.4h0M1141.5 117.4h0"/>
<path stroke="#962db4" d="M643.0 225.5h0M569.8 236.4h0"/>
<path stroke="#f00073" d="M576.4 215.3h0M594.1 226.8h0M599.3 216.5h0M624.7 227.9h0"/>
<path stroke="#dd0088" d="M595.6 193.5h0"/>
<path stroke="#fe005d" d="M626.8 238.2h0M590.2 233.8h0M618.1 227.8h0M613.1 232.3h0M632.2 219.9h0M610.4 233.6h0M593.2 252.1h0M651.4 213.7h0M564.0 201.0h0M642.2 208.7h0"/>
<path stroke="#0083f8" d="M507.8 217.5h0"/>
<path stroke="#008bfb" d="M512.3 223.5h0M531.8 216.2h0"/>
<path stroke="#e7007e" d="M800.6 219.7h0M618.6 237.9h0"/>
<path stroke="#f80068" d="M708.5 219.9h0M680.4 223.2h0M572.5 193.6h0M808.7 220.0h0M585.4 245.4h0M548.4 219.9h0M645.1 216.5h0"/>
<path stroke="#a41daa" d="M580.4 211.9h0M670.5 222.0h0M553.2 209.9h0M604.0 217.6h0M619.7 209.8h0M606.3 202.7h0M554.0 214.4h0"/>
<path stroke="#b408a3" d="M583.5 224.5h0M644.1 217.7h0M658.4 224.8h0M435.9 219.9h0"/>
<path stroke="#ff0051" d="M594.5 246.3h0M603.0 250.8h0M601.4 211.9h0M649.2 209.8h0M627.4 219.9h0M808.0 220.0h0M775.6 219.5h0M618.6 240.2h0M635.4 211.7h0M576.9 213.0h0M601.8 200.5h0M603.5 246.2h0M578.5 219.9h0M599.5 213.0h0M614.8 242.4h0M636.5 235.2h0M614.8 222.2h0M582.4 237.3h0M607.6 221.0h0"/>
<path stroke="#962db4" d="M579.5 227.9h0M549.9 224.3h0M573.0 203.9h0M609.4 213.0h0M561.5 219.9h0M598.5 218.8h0"/>
<path stroke="#a41daa" d="M535.3 215.0h0M588.6 246.5h0M549.8 225.4h0M593.1 240.6h0M577.3 222.2h0M556.1 222.1h0M590.9 226.9h0"/>
<path stroke="#ff0051" d="M583.2 189.8h0M563.2 217.5h0M601.4 193.6h0M738.4 221.5h0M609.3 229.1h0M568.1 216.4h0M636.3 225.8h0M602.6 214.2h0M572.3 248.5h0M587.5 235.0h0M585.8 202.5h0M596.6 239.4h0"/>
<path stroke="#fe005d" d="M616.8 226.7h0M720.8 218.9h0M595.9 244.0h0M649.2 226.6h0M568.0 235.3h0M599.5 196.9h0M601.4 239.3h0M600.8 200.4h0M769.5 219.1h0M571.4 241.6h0M590.3 196.7h0M663.6 217.8h0"/>
<path stroke="#8a3dc1" d="M516.9 219.9h0"/>
<path stroke="#008bfb" d="M477.3 219.7h0"/>
<path stroke="#b408a3" d="M576.1 201.6h0M637.9 218.7h0"/>
<path stroke="#e7007e" d="M774.6 219.8h0M680.2 218.8h0"/>
<path stroke="#f00073" d="M620.7 216.5h0M605.1 235.9h0"/>
<path stroke="#f80068" d="M633.7 224.6h0M605.5 207.3h0M547.2 221.0h0M571.5 199.3h0M789.2 219.8h0M613.3 225.5h0M587.0 236.1h0M720.0 221.9h0M600.9 219.9h0M597.2 205.0h0M660.6 226.1h0M620.8 213.1h0M593.2 233.7h0"/>
<path stroke="#d10092" d="M624.3 225.6h0"/>
<path stroke="#0083f8" d="M536.4 224.8h0M452.3 219.9h0M529.6 223.3h0M468.7 219.9h0"/>
<path stroke="#f00073" d="M693.7 222.2h0M627.1 208.5h0M775.9 219.4h0M619.5 239.0h0M648.6 223.3h0M650.3 224.4h0"/>
<path stroke="#b408a3" d="M576.0 223.3h0M559.7 226.5h0M661.6 223.0h0M618.0 204.1h0"/>
<path stroke="#ff0051" d="M571.7 190.2h0M598.7 203.8h0M609.7 248.5h0M569.0 232.9h0M586.4 192.1h0M599.4 249.8h0M626.7 217.6h0M613.3 218.8h0M595.4 223.3h0M603.5 215.3h0M601.2 216.5h0M633.0 214.0h0"/>
<path stroke="#a41daa" d="M549.6 218.8h0M812.0 219.9h0M623.1 214.2h0M588.6 255.8h0M601.8 238.2h0M594.0 206.1h0M612.2 231.2h0M605.5 219.9h0M577.7 224.5h0M509.7 219.9h0"/>
<path stroke="#e7007e" d="M591.6 184.3h0"/>
<path stroke="#008bfb" d="M483.8 220.1h0M569.1 231.7h0M536.9 218.7h0M512.2 222.3h0M476.5 219.9h0"/>
<path stroke="#dd0088" d="M582.4 186.3h0M607.2 203.9h0"/>
<path stroke="#f80068" d="M635.1 226.9h0M602.7 209.6h0M595.5 255.5h0M720.6 217.9h0M614.2 201.9h0M613.6 224.4h0M584.9 185.1h0M598.7 253.2h0M639.3 223.4h0"/>
<path stroke="#c3009b" d="M620.1 210.9h0"/>
<path stroke="#fe005d" d="M606.9 226.8h0M589.1 188.6h0M625.2 209.6h0M757.2 219.0h0M620.8 217.6h0"/>
<path stroke="#f00073" d="M710.2 222.9h0M561.9 230.5h0M637.9 209.3h0M626.3 239.3h0M562.4 204.5h0M514.9 216.3h0M652.9 216.2h0M674.0 219.9h0"/>
<path stroke="#e7007e" d="M599.6 225.6h0M710.3 216.9h0"/>
<path stroke="#0083f8" d="M739.0 218.3h0M510.9 218.7h0M496.4 219.7h0M445.1 219.9h0M493.9 220.3h0"/>
<path stroke="#8a3dc1" d="M428.3 219.9h0"/>
<path stroke="#f80068" d="M674.6 217.7h0M687.0 222.2h0M602.9 205.0h0M587.6 217.6h0M607.5 242.8h0M586.4 223.4h0"/>
<path stroke="#008bfb" d="M460.7 219.8h0M529.2 222.2h0M486.2 219.5h0"/>
<path stroke="#c3009b" d="M631.3 230.5h0M646.5 214.3h0"/>
<path stroke="#a41daa" d="M561.9 215.2h0M426.7 219.9h0M579.3 210.8h0M580.4 202.7h0M576.9 230.2h0M575.6 197.0h0"/>
<path stroke="#007bf5" d="M526.5 216.5h0"/>
<path stroke="#fe005d" d="M597.8 202.7h0M597.1 208.4h0M700.8 223.3h0M563.8 206.9h0M782.3 219.7h0M652.2 215.0h0M643.2 215.4h0M689.2 215.4h0M648.6 213.2h0"/>
<path stroke="#ff0051" d="M614.6 235.7h0M597.6 247.5h0M630.5 222.2h0M598.8 190.0h0M594.6 242.9h0M589.9 215.3h0M588.5 230.3h0"/>
<path stroke="#962db4" d="M606.2 194.7h0M573.9 200.5h0M578.8 205.0h0M616.9 194.0h0"/>
<path stroke="#b408a3" d="M596.5 229.1h0M573.0 231.3h0M599.9 194.6h0M661.5 219.9h0M639.1 232.8h0"/>
<path stroke="#962db4" d="M566.1 208.1h0M576.1 214.2h0M585.7 250.0h0M562.0 229.4h0"/>
<path stroke="#0083f8" d="M528.0 217.6h0M554.8 213.3h0M551.1 223.2h0"/>
<path stroke="#ff0051" d="M581.3 210.6h0M589.6 201.4h0M570.0 211.6h0M588.8 204.8h0M583.8 216.4h0M579.1 189.0h0M636.9 231.6h0M581.3 190.9h0M577.9 242.8h0M577.6 247.3h0M577.3 235.9h0M568.6 224.6h0M592.1 231.4h0M637.6 228.1h0M618.9 244.7h0M581.1 232.5h0M565.2 222.3h0M591.1 203.7h0"/>
<path stroke="#008bfb" d="M512.1 221.1h0M530.7 219.9h0M455.6 219.9h0M538.3 223.6h0"/>
<path stroke="#a41daa" d="M590.9 206.0h0M639.5 236.3h0M610.1 227.9h0"/>
<path stroke="#f00073" d="M741.6 219.9h0M748.2 221.2h0M595.6 188.9h0M592.6 191.2h0M593.5 234.8h0M533.8 221.1h0M567.0 225.8h0"/>
<path stroke="#f80068" d="M628.5 224.5h0M583.0 229.2h0M707.0 221.9h0M625.5 200.5h0M612.3 197.4h0"/>
<path stroke="#e7007e" d="M594.2 185.4h0M585.9 241.9h0"/>
<path stroke="#fe005d" d="M652.8 218.7h0M789.4 219.6h0M689.7 221.0h0M616.3 221.0h0M638.8 229.3h0M575.8 234.8h0M581.4 252.3h0M606.3 237.1h0M800.8 219.8h0M609.7 224.5h0"/>
<path stroke="#dd0088" d="M606.0 249.6h0"/>
<path stroke="#b408a3" d="M653.5 222.4h0"/>
<path stroke="#8a3dc1" d="M575.8 194.7h0"/>
<path stroke="#b408a3" d="M622.8 237.1h0"/>
<path stroke="#f80068" d="M578.9 246.2h0M582.4 239.6h0M594.9 214.2h0M577.2 233.6h0M597.3 224.5h0M672.1 215.5h0M693.4 221.0h0M611.8 196.3h0M586.8 238.4h0M643.0 221.0h0M539.1 217.5h0M692.4 216.5h0"/>
<path stroke="#fe005d" d="M615.3 241.3h0M600.2 241.7h0M580.7 195.9h0M658.5 223.6h0M706.1 218.9h0M567.7 238.8h0"/>
<path stroke="#ff0051" d="M629.6 230.2h0M624.6 232.5h0M562.3 228.2h0M602.5 197.0h0M630.4 240.5h0M557.3 225.4h0M582.7 212.9h0M574.1 217.6h0M565.4 221.1h0M608.3 206.2h0M606.3 230.2h0M598.7 187.7h0"/>
<path stroke="#dd0088" d="M755.7 219.9h0"/>
<path stroke="#f00073" d="M700.9 218.8h0M668.7 215.7h0M637.5 234.0h0M658.3 221.1h0M606.4 241.6h0M687.2 223.3h0M670.1 224.1h0M630.9 206.2h0"/>
<path stroke="#a41daa" d="M548.2 216.6h0M609.7 245.1h0M627.6 199.3h0M554.9 217.7h0M620.1 206.4h0M661.4 220.9h0"/>
<path stroke="#007bf5" d="M586.1 243.1h0"/>
<path stroke="#e7007e" d="M632.3 205.8h0M812.2 219.9h0M720.2 220.9h0"/>
<path stroke="#962db4" d="M610.7 191.3h0"/>
<path stroke="#008bfb" d="M487.3 220.2h0M533.4 222.3h0M448.2 219.9h0"/>
<path stroke="#d10092" d="M615.5 219.9h0"/>
<path stroke="#0083f8" d="M464.5 220.0h0M463.0 219.8h0M497.0 219.7h0"/>
<path stroke="#8a3dc1" d="M549.9 217.7h0"/>
<path stroke="#dd0088" d="M585.7 184.0h0M581.8 251.2h0"/>
<path stroke="#b408a3" d="M600.4 210.7h0M624.3 226.8h0M593.6 232.5h0M592.7 199.2h0"/>
<path stroke="#008bfb" d="M578.2 225.6h0M526.1 221.0h0M446.6 219.9h0M553.3 221.0h0"/>
<path stroke="#a41daa" d="M615.5 223.3h0M528.4 215.4h0M578.7 226.8h0M598.7 192.3h0M582.2 228.0h0"/>
<path stroke="#7b4acd" d="M436.7 219.9h0"/>
<path stroke="#e7007e" d="M625.6 202.7h0M612.1 212.0h0"/>
<path stroke="#6956d7" d="M747.6 218.6h0"/>
<path stroke="#fe005d" d="M585.2 253.5h0M622.2 203.9h0M768.3 219.9h0M589.5 211.8h0M589.8 240.8h0M644.4 212.0h0M619.0 230.0h0M621.4 205.0h0M610.7 243.9h0M620.8 203.0h0M560.3 223.2h0M566.5 214.0h0M597.6 201.5h0"/>
<path stroke="#962db4" d="M435.8 219.9h0"/>
<path stroke="#f80068" d="M685.2 224.4h0M704.3 220.9h0M609.4 192.4h0M754.3 220.8h0M717.6 219.9h0"/>
<path stroke="#ff0051" d="M594.8 227.9h0M582.7 187.5h0M624.9 218.8h0M618.6 199.6h0M666.0 218.9h0M586.9 195.6h0M577.7 243.9h0M613.9 200.8h0M567.2 212.8h0M603.0 199.3h0M676.9 216.6h0M577.7 238.2h0"/>
<path stroke="#c3009b" d="M629.6 210.8h0"/>
<path stroke="#8a3dc1" d="M583.1 244.2h0"/>
<path stroke="#f00073" d="M643.1 218.8h0M619.2 198.5h0M608.4 190.2h0M686.0 216.5h0M625.7 215.3h0M617.4 205.3h0M617.6 234.5h0"/>
<path stroke="#dd0088" d="M608.1 231.3h0"/>
<path stroke="#ff0051" d="M633.7 222.2h0M607.6 223.3h0M574.5 250.8h0M811.7 219.9h0M579.5 245.1h0M622.6 223.3h0M588.0 221.1h0M590.7 208.3h0"/>
<path stroke="#008bfb" d="M471.4 220.1h0M522.0 218.8h0M571.7 192.5h0M503.3 222.3h0M589.1 214.1h0M555.1 227.6h0M537.0 219.9h0"/>
<path stroke="#f80068" d="M635.7 210.5h0M580.4 198.2h0M631.2 208.2h0M574.3 216.5h0M689.4 217.6h0M591.0 219.9h0M819.7 219.9h0M675.1 222.1h0M584.0 200.2h0M596.0 250.9h0M573.6 206.2h0"/>
<path stroke="#8a3dc1" d="M560.0 211.0h0"/>
<path stroke="#f00073" d="M590.6 225.7h0M625.1 207.3h0M630.3 234.8h0M557.1 212.2h0"/>
<path stroke="#0083f8" d="M520.3 217.5h0"/>
<path stroke="#962db4" d="M611.3 233.4h0M544.7 214.4h0M558.5 215.5h0M614.6 243.5h0M635.9 221.1h0M637.0 207.0h0"/>
<path stroke="#a41daa" d="M791.1 219.9h0M561.6 234.1h0M634.1 212.9h0M498.0 219.4h0M615.0 208.6h0M561.8 223.4h0M554.6 216.6h0"/>
<path stroke="#c3009b" d="M627.9 201.6h0M626.9 235.9h0"/>
<path stroke="#fe005d" d="M593.3 236.0h0M606.2 234.8h0M636.0 215.2h0M573.7 237.1h0M599.2 209.6h0M570.7 227.0h0"/>
<path stroke="#e7007e" d="M650.8 222.1h0M583.5 232.6h0"/>
<path stroke="#b408a3" d="M599.0 237.1h0M608.0 201.6h0M649.0 231.1h0"/>
<path stroke="#b408a3" d="M585.7 248.9h0"/>
<path stroke="#8a3dc1" d="M678.0 224.3h0"/>
<path stroke="#d10092" d="M587.6 193.3h0"/>
<path stroke="#962db4" d="M566.0 205.7h0M661.4 216.8h0M574.8 208.5h0M565.8 210.4h0M551.7 228.8h0M645.8 210.9h0M598.9 198.1h0M428.7 219.9h0M605.7 222.2h0"/>
<path stroke="#dd0088" d="M615.3 236.8h0"/>
<path stroke="#a41daa" d="M436.3 219.9h0M623.1 229.0h0M620.5 215.4h0M572.3 249.6h0M697.8 217.6h0M569.6 203.4h0"/>
<path stroke="#e7007e" d="M695.9 219.9h0M726.7 219.0h0M604.5 225.6h0M663.8 225.1h0M591.3 186.6h0M704.6 217.9h0M599.6 238.3h0M603.5 195.9h0"/>
<path stroke="#f80068" d="M615.3 195.1h0M600.2 217.6h0M569.4 237.6h0M623.0 211.9h0M594.4 254.4h0M800.2 219.8h0"/>
<path stroke="#ff0051" d="M569.8 202.2h0M623.5 216.5h0M577.1 207.3h0M810.5 219.8h0M560.7 219.9h0M778.6 219.9h0M586.3 199.0h0M597.0 207.3h0"/>
<path stroke="#c3009b" d="M601.8 210.7h0"/>
<path stroke="#fe005d" d="M799.9 219.7h0M684.1 218.8h0M650.7 228.9h0M571.4 239.3h0M739.1 219.9h0M596.6 211.9h0M645.3 227.8h0"/>
<path stroke="#008bfb" d="M547.7 215.5h0M477.7 219.8h0M545.1 222.1h0M448.8 219.9h0M562.7 209.3h0"/>
<path stroke="#f00073" d="M592.8 195.8h0M581.2 222.2h0M632.2 217.6h0M599.4 230.2h0M640.4 203.5h0"/>
<path stroke="#008bfb" d="M526.7 224.4h0M455.0 219.9h0M505.2 221.1h0M486.1 219.5h0M516.9 218.7h0"/>
<path stroke="#e7007e" d="M783.0 219.6h0M726.2 219.9h0"/>
<path stroke="#007bf5" d="M461.4 220.0h0"/>
<path stroke="#b408a3" d="M625.8 231.3h0M617.4 207.5h0M576.3 218.8h0"/>
<path stroke="#8a3dc1" d="M555.1 229.9h0M687.8 219.9h0"/>
<path stroke="#a41daa" d="M641.8 230.0h0M583.9 218.7h0M609.1 189.0h0"/>
<path stroke="#fe005d" d="M609.1 247.4h0M630.2 221.0h0M656.6 217.4h0M594.8 222.2h0M629.8 213.0h0M675.4 221.0h0M655.5 219.9h0M613.8 228.9h0M639.5 204.6h0"/>
<path stroke="#dd0088" d="M597.6 248.6h0M601.4 240.5h0M600.6 215.3h0M609.3 208.5h0"/>
<path stroke="#f00073" d="M650.8 219.9h0M630.1 233.6h0M576.1 229.0h0M581.3 209.5h0"/>
<path stroke="#ff0051" d="M613.5 214.3h0M583.8 254.7h0M580.1 191.3h0M556.8 218.8h0M609.4 198.2h0M600.4 245.2h0M586.7 194.4h0M610.8 232.5h0M602.8 218.8h0M589.2 207.2h0M584.4 197.9h0M586.6 231.5h0M614.4 245.8h0"/>
<path stroke="#962db4" d="M584.4 247.7h0M639.0 216.4h0"/>
<path stroke="#f80068" d="M565.8 218.7h0M721.5 220.8h0M766.5 220.7h0M593.6 221.0h0M554.8 224.3h0M571.3 209.6h0M665.7 214.7h0M578.9 240.5h0M572.3 221.0h0"/>
<path stroke="#008bfb" d="M841.0 219.9h0M855.8 219.9h0M901.5 219.9h0M1118.5 219.9h0M1422.8 219.9h0M1424.8 219.9h0"/>
<path stroke="#0083f8" d="M653.8 316.9h0M585.6 330.4h0M603.0 352.8h0M777.0 322.5h0M577.4 330.6h0M612.1 341.8h0"/>
<path stroke="#dd0088" d="M579.5 338.8h0"/>
<path stroke="#008bfb" d="M654.7 326.9h0M585.1 354.2h0M702.1 320.3h0M731.0 323.1h0M601.8 290.9h0M694.6 321.2h0M591.8 323.6h0M609.7 341.9h0M674.3 320.2h0M722.7 323.2h0M572.5 326.0h0M677.2 321.3h0M618.1 305.4h0M588.5 293.6h0M633.7 328.4h0M687.5 327.0h0M630.7 326.0h0M586.7 304.3h0M589.7 319.0h0M631.7 320.1h0M573.3 319.0h0"/>
<path stroke="#7b4acd" d="M514.7 322.4h0M606.6 325.9h0"/>
<path stroke="#2f6ae9" d="M587.9 308.8h0"/>
<path stroke="#b408a3" d="M630.3 315.3h0M624.3 307.1h0"/>
<path stroke="#fe005d" d="M605.4 344.2h0M626.6 333.1h0"/>
<path stroke="#d10092" d="M614.9 336.1h0"/>
<path stroke="#5261e1" d="M579.7 300.3h0M592.0 314.4h0M495.2 322.4h0"/>
<path stroke="#8a3dc1" d="M562.0 328.3h0M579.6 348.1h0M580.8 294.1h0M588.8 286.7h0"/>
<path stroke="#c3009b" d="M589.3 313.2h0M585.0 291.8h0"/>
<path stroke="#ff0051" d="M627.2 333.2h0M611.5 315.6h0M605.1 327.0h0M622.0 339.0h0M610.9 303.0h0"/>
<path stroke="#007bf5" d="M548.6 320.1h0"/>
<path stroke="#962db4" d="M603.1 288.6h0M603.9 333.0h0M587.6 352.0h0"/>
<path stroke="#6956d7" d="M521.4 322.2h0M567.1 337.6h0M585.7 314.5h0M558.4 316.6h0M590.2 304.0h0M592.1 321.3h0M583.4 336.1h0M582.3 338.3h0M607.1 304.2h0"/>
<path stroke="#fe005d" d="M617.7 315.6h0M632.0 310.5h0M611.6 303.1h0M587.5 319.0h0"/>
<path stroke="#6956d7" d="M570.5 321.3h0M593.1 298.2h0M596.8 294.4h0"/>
<path stroke="#962db4" d="M583.0 353.1h0M601.8 293.3h0"/>
<path stroke="#0083f8" d="M578.6 303.8h0M799.4 322.4h0M620.9 308.3h0M718.1 322.4h0M589.6 289.0h0M664.0 322.4h0M671.3 324.8h0M752.9 322.5h0M613.0 311.1h0M741.0 322.7h0M629.9 324.8h0M624.2 327.2h0M603.6 328.3h0"/>
<path stroke="#ff0051" d="M623.7 315.4h0M611.3 305.3h0M621.2 334.2h0"/>
<path stroke="#007bf5" d="M665.4 321.3h0"/>
<path stroke="#008bfb" d="M596.2 329.5h0M681.4 325.9h0M671.6 321.3h0M606.0 308.7h0M684.5 323.6h0M873.6 322.4h0M631.9 329.6h0M619.4 326.0h0M693.6 319.9h0M576.4 327.1h0M651.5 323.6h0M576.6 339.9h0M578.8 341.1h0M648.2 316.0h0M677.2 327.0h0M743.9 322.1h0M649.2 324.6h0M874.5 322.4h0M683.0 322.4h0M688.7 317.9h0M883.9 322.4h0M574.6 334.1h0M637.6 323.6h0"/>
<path stroke="#d10092" d="M572.6 318.9h0"/>
<path stroke="#5261e1" d="M574.3 308.5h0M590.3 349.0h0M597.1 330.6h0M573.4 328.3h0"/>
<path stroke="#7b4acd" d="M602.2 351.6h0M535.0 322.4h0M594.3 355.9h0M576.9 321.3h0M553.9 321.3h0"/>
<path stroke="#8a3dc1" d="M587.8 302.0h0M577.7 301.5h0"/>
<path stroke="#c3009b" d="M558.8 320.1h0M592.5 297.1h0"/>
<path stroke="#6956d7" d="M593.5 327.1h0M580.0 332.9h0M555.9 322.4h0M592.3 357.1h0M502.8 322.4h0M600.8 337.6h0M575.5 306.1h0M580.5 346.9h0M585.7 341.7h0M574.6 320.1h0"/>
<path stroke="#7b4acd" d="M544.7 321.3h0M614.2 335.0h0"/>
<path stroke="#d10092" d="M561.3 319.0h0"/>
<path stroke="#007bf5" d="M561.6 322.4h0M688.5 324.7h0"/>
<path stroke="#2f6ae9" d="M581.1 355.4h0"/>
<path stroke="#ff0051" d="M622.7 318.9h0M633.0 317.7h0M605.3 328.2h0M620.6 304.8h0M593.9 329.4h0"/>
<path stroke="#5261e1" d="M606.8 345.3h0M513.2 322.4h0M572.1 311.9h0"/>
<path stroke="#b408a3" d="M632.2 335.6h0"/>
<path stroke="#962db4" d="M598.0 310.8h0M597.1 326.0h0M581.5 346.3h0M568.2 316.6h0"/>
<path stroke="#0083f8" d="M598.5 297.9h0M572.6 323.6h0M648.2 328.9h0M720.7 322.4h0M657.8 325.8h0M573.9 343.4h0M603.0 301.4h0M594.8 328.2h0M779.1 322.3h0M588.1 290.7h0"/>
<path stroke="#008bfb" d="M668.2 322.4h0M579.2 313.1h0M797.0 322.4h0M756.7 322.6h0M595.1 334.0h0M829.1 322.4h0M604.4 340.7h0M675.6 324.7h0M583.9 350.8h0M825.8 322.4h0M620.6 342.5h0M595.3 338.6h0M708.8 321.9h0M595.9 317.8h0M630.2 323.6h0M686.1 319.0h0M811.1 322.4h0M656.9 322.4h0M734.3 321.8h0M863.7 322.4h0M843.1 322.4h0M609.2 309.9h0"/>
<path stroke="#fe005d" d="M614.6 337.3h0M618.5 317.9h0"/>
<path stroke="#008bfb" d="M699.2 321.4h0M673.4 318.9h0M801.9 322.5h0M611.7 316.8h0M625.6 317.7h0M728.1 322.4h0M588.9 340.9h0M858.0 322.4h0M579.7 295.6h0M631.0 332.0h0M680.4 317.9h0M570.4 340.0h0M641.1 325.9h0"/>
<path stroke="#b408a3" d="M612.0 299.7h0"/>
<path stroke="#6956d7" d="M593.8 322.4h0M575.1 307.3h0M595.6 337.4h0M559.2 330.6h0M572.5 304.9h0M586.7 344.0h0M586.7 305.4h0M587.1 345.2h0M570.6 308.4h0M542.7 322.4h0M582.1 300.9h0"/>
<path stroke="#ff0051" d="M590.7 315.5h0M621.4 340.1h0M631.3 312.9h0M644.8 320.3h0M596.3 356.3h0M598.2 295.6h0M614.5 313.3h0"/>
<path stroke="#fe005d" d="M626.0 324.8h0"/>
<path stroke="#8a3dc1" d="M589.9 350.1h0M560.2 309.7h0M596.2 334.1h0"/>
<path stroke="#dd0088" d="M561.6 325.9h0"/>
<path stroke="#d10092" d="M587.1 306.6h0M583.3 329.3h0M568.9 315.4h0M576.1 324.8h0"/>
<path stroke="#5261e1" d="M590.3 351.3h0M562.3 314.3h0M570.4 317.8h0"/>
<path stroke="#007bf5" d="M597.3 302.6h0"/>
<path stroke="#a41daa" d="M590.7 336.3h0"/>
<path stroke="#0083f8" d="M596.3 344.6h0M590.0 295.9h0M665.2 324.7h0M589.0 347.8h0M600.1 321.3h0M672.5 320.1h0M604.4 317.9h0M678.5 325.8h0M583.1 295.2h0M593.1 358.2h0"/>
<path stroke="#962db4" d="M600.8 343.5h0M606.2 323.6h0"/>
<path stroke="#7b4acd" d="M560.3 332.9h0M543.6 323.6h0M582.0 297.5h0M579.7 323.6h0M586.8 349.7h0"/>
<path stroke="#2f6ae9" d="M569.8 320.1h0M524.6 322.7h0"/>
<path stroke="#7b4acd" d="M569.7 314.3h0M587.0 327.0h0M581.9 298.6h0"/>
<path stroke="#008bfb" d="M618.9 339.5h0M583.6 340.6h0M617.0 324.7h0M626.0 330.7h0M719.0 321.3h0M657.0 319.1h0M799.6 322.5h0M603.3 322.4h0M819.8 322.4h0M782.1 322.5h0M648.5 323.5h0M598.4 304.9h0M648.8 318.2h0M617.7 308.8h0M592.6 290.1h0M602.3 303.8h0M876.0 322.4h0M695.1 326.3h0M788.7 322.6h0M700.5 323.5h0"/>
<path stroke="#0083f8" d="M564.1 331.8h0M572.1 303.8h0M594.3 353.6h0M813.7 322.4h0M859.8 322.4h0M642.5 316.6h0M590.8 310.9h0M596.5 313.1h0M600.8 336.5h0M621.4 328.3h0M583.6 288.4h0M599.5 347.0h0M576.8 350.4h0M559.3 323.6h0M603.7 314.3h0M806.5 322.4h0"/>
<path stroke="#fe005d" d="M614.9 314.5h0M608.7 311.0h0"/>
<path stroke="#962db4" d="M562.5 327.1h0"/>
<path stroke="#d10092" d="M559.9 317.8h0"/>
<path stroke="#6956d7" d="M552.6 324.8h0M572.0 334.1h0M574.2 322.4h0M576.4 342.3h0M610.9 312.2h0"/>
<path stroke="#0073ef" d="M555.7 317.8h0"/>
<path stroke="#ff0051" d="M607.2 307.6h0M600.6 331.8h0M600.1 308.4h0M617.1 301.9h0M624.0 316.6h0M632.2 327.2h0M642.7 322.4h0M632.0 311.7h0M633.9 318.9h0"/>
<path stroke="#5261e1" d="M535.0 324.8h0"/>
<path stroke="#a41daa" d="M605.0 316.7h0"/>
<path stroke="#b408a3" d="M499.9 322.4h0"/>
<path stroke="#8a3dc1" d="M591.9 287.8h0M566.4 338.8h0M594.3 331.7h0M587.9 332.7h0M611.4 321.3h0"/>
<path stroke="#c3009b" d="M624.4 329.5h0M611.5 300.7h0"/>
<path stroke="#ff0051" d="M598.3 296.8h0"/>
<path stroke="#6956d7" d="M604.2 346.4h0M564.0 321.3h0M565.3 322.4h0M574.5 312.0h0M587.0 296.3h0M563.9 334.1h0M568.3 309.6h0M591.2 285.5h0M586.9 342.9h0"/>
<path stroke="#008bfb" d="M683.6 320.2h0M772.4 322.4h0M584.8 317.9h0M635.6 321.3h0M852.8 322.4h0M655.2 328.0h0M609.1 299.6h0M578.5 331.8h0M634.0 321.3h0M625.7 321.3h0M586.6 311.1h0M643.6 319.2h0M670.7 326.0h0M674.6 322.4h0M575.5 349.3h0M664.7 326.9h0"/>
<path stroke="#dd0088" d="M586.7 348.6h0"/>
<path stroke="#007bf5" d="M582.0 312.2h0M575.4 305.0h0M605.0 298.5h0M566.9 307.3h0M741.4 322.7h0M580.9 347.4h0"/>
<path stroke="#0073ef" d="M530.0 321.2h0"/>
<path stroke="#5261e1" d="M495.4 322.4h0M585.9 322.4h0M591.9 312.1h0M550.8 326.0h0M538.4 320.1h0"/>
<path stroke="#962db4" d="M601.3 306.1h0M585.3 315.6h0M595.2 308.6h0"/>
<path stroke="#a41daa" d="M607.1 343.0h0"/>
<path stroke="#0083f8" d="M691.1 323.7h0M823.7 322.5h0M559.3 336.4h0M582.5 289.5h0M876.5 322.4h0M575.5 325.9h0M596.5 338.8h0M663.3 319.1h0M602.1 342.3h0M652.4 321.3h0M572.9 310.8h0M595.5 316.7h0"/>
<path stroke="#fe005d" d="M611.0 301.9h0"/>
<path stroke="#f80068" d="M614.7 321.3h0"/>
<path stroke="#ff0051" d="M619.1 304.2h0M606.7 339.6h0M597.2 316.6h0M612.6 333.8h0M636.8 319.0h0M641.4 328.3h0M593.2 343.2h0M611.3 322.4h0"/>
<path stroke="#6956d7" d="M586.5 334.9h0M584.8 310.0h0M566.5 313.1h0M508.5 322.4h0M531.6 323.7h0M509.7 322.4h0M590.0 330.5h0"/>
<path stroke="#007bf5" d="M588.6 292.5h0M583.4 356.5h0M613.3 298.5h0M615.4 319.0h0"/>
<path stroke="#d10092" d="M566.8 327.1h0M571.5 335.3h0M556.7 318.9h0M590.9 352.4h0"/>
<path stroke="#962db4" d="M606.1 338.4h0"/>
<path stroke="#5261e1" d="M576.6 316.6h0M568.2 324.8h0M551.0 328.3h0"/>
<path stroke="#a41daa" d="M601.8 289.8h0"/>
<path stroke="#0083f8" d="M601.2 292.1h0M590.2 291.3h0M589.8 335.1h0M584.8 325.9h0M595.6 294.8h0M627.9 322.4h0M573.2 309.6h0M553.5 320.1h0M589.6 324.8h0"/>
<path stroke="#fe005d" d="M613.2 309.9h0M625.7 337.8h0"/>
<path stroke="#008bfb" d="M658.7 320.2h0M663.0 325.8h0M585.4 292.9h0M771.5 322.4h0M623.0 320.1h0M692.8 325.0h0M607.5 313.3h0M773.6 322.4h0M638.4 317.8h0M637.1 322.4h0M786.6 322.6h0M746.2 322.8h0M680.5 323.6h0M621.5 335.4h0M579.6 329.4h0M848.1 322.4h0M641.2 324.8h0M690.6 318.6h0M699.8 322.4h0M699.6 324.6h0"/>
<path stroke="#7b4acd" d="M550.0 327.1h0M557.5 313.1h0"/>
<path stroke="#8a3dc1" d="M517.4 322.4h0"/>
<path stroke="#6956d7" d="M605.3 332.7h0M587.4 339.5h0M596.0 346.7h0M596.6 315.4h0M494.1 322.4h0M555.7 316.6h0M591.0 359.4h0"/>
<path stroke="#b408a3" d="M615.1 325.9h0"/>
<path stroke="#fe005d" d="M624.0 336.6h0"/>
<path stroke="#dd0088" d="M572.6 333.0h0"/>
<path stroke="#d10092" d="M557.6 310.8h0M633.8 309.3h0"/>
<path stroke="#007bf5" d="M601.2 350.5h0M608.7 306.5h0M605.5 329.3h0"/>
<path stroke="#c3009b" d="M619.0 345.2h0"/>
<path stroke="#7b4acd" d="M566.8 306.1h0M595.1 301.7h0M567.5 341.1h0M573.8 294.5h0M604.0 336.2h0"/>
<path stroke="#008bfb" d="M764.8 322.5h0M644.9 325.7h0M754.6 322.2h0M600.1 299.1h0M848.3 322.4h0M649.7 321.4h0M664.7 318.0h0M834.1 322.4h0M582.9 313.4h0M619.0 329.3h0M609.1 314.5h0M586.6 331.5h0M708.6 322.4h0M635.0 329.4h0M636.6 320.1h0M705.0 323.0h0M839.6 322.4h0M591.2 332.8h0"/>
<path stroke="#ff0051" d="M626.7 323.6h0M618.2 307.6h0M598.2 335.3h0M605.4 330.4h0"/>
<path stroke="#962db4" d="M562.4 324.8h0M605.2 333.9h0"/>
<path stroke="#5261e1" d="M585.5 324.7h0M547.8 324.8h0M594.7 309.8h0M577.5 344.6h0M505.7 322.4h0M575.7 335.3h0M582.8 299.7h0M595.8 306.3h0"/>
<path stroke="#0083f8" d="M616.4 330.4h0M866.3 322.4h0M883.7 322.4h0M594.7 302.8h0M589.4 354.8h0M574.4 336.4h0M582.3 307.7h0M618.2 300.8h0M599.5 307.3h0"/>
<path stroke="#8a3dc1" d="M561.8 312.0h0"/>
<path stroke="#7b4acd" d="M527.9 322.4h0"/>
<path stroke="#007bf5" d="M585.7 323.6h0M622.9 311.8h0"/>
<path stroke="#8a3dc1" d="M577.9 345.8h0M561.3 315.5h0M601.3 309.6h0M595.6 342.1h0"/>
<path stroke="#d10092" d="M618.1 328.1h0"/>
<path stroke="#fe005d" d="M620.3 341.3h0"/>
<path stroke="#2f6ae9" d="M571.0 329.5h0"/>
<path stroke="#ff0051" d="M607.0 335.0h0M616.9 306.5h0M616.3 340.7h0M631.4 330.8h0M632.5 334.4h0M612.8 312.2h0M623.0 309.5h0"/>
<path stroke="#6956d7" d="M565.1 336.5h0M605.6 297.3h0M571.6 328.3h0M597.0 300.3h0M582.1 337.2h0M524.4 322.7h0"/>
<path stroke="#5261e1" d="M567.4 331.8h0M593.9 299.4h0M566.7 310.8h0M574.2 337.6h0"/>
<path stroke="#0083f8" d="M750.7 322.3h0M620.3 322.4h0M573.9 298.0h0M623.3 303.6h0M598.9 327.1h0M584.9 333.8h0M626.7 302.4h0M656.8 324.7h0M649.8 327.8h0M791.8 322.6h0M580.0 296.8h0M641.4 315.5h0"/>
<path stroke="#008bfb" d="M839.7 322.5h0M868.6 322.4h0M625.3 305.9h0M724.8 321.7h0M574.8 317.8h0M648.6 326.7h0M762.8 322.4h0M600.2 318.9h0M645.9 317.1h0M737.1 322.8h0M599.6 340.0h0M848.9 322.4h0M670.8 323.6h0M687.7 321.3h0M604.0 347.6h0M716.9 323.6h0M607.7 320.2h0M650.7 318.0h0M656.6 320.2h0M813.7 322.4h0M618.4 343.0h0M618.5 327.0h0"/>
<path stroke="#962db4" d="M591.2 307.5h0M571.0 330.6h0"/>
<path stroke="#008bfb" d="M679.9 319.1h0M637.1 327.1h0M597.0 311.9h0M608.1 337.3h0M783.1 322.5h0M600.8 324.8h0M603.7 320.1h0M877.8 322.4h0M662.9 323.6h0M832.3 322.5h0M597.1 349.3h0M625.2 313.0h0M626.2 314.2h0M600.2 355.1h0M806.0 322.5h0M593.9 345.5h0M620.6 331.9h0M603.6 354.0h0"/>
<path stroke="#0073ef" d="M534.9 323.6h0"/>
<path stroke="#962db4" d="M573.2 315.5h0M590.0 325.9h0"/>
<path stroke="#5261e1" d="M553.8 323.6h0M576.7 299.1h0"/>
<path stroke="#6956d7" d="M586.2 316.8h0M601.9 341.1h0M588.8 339.8h0M583.4 321.3h0"/>
<path stroke="#8a3dc1" d="M593.6 320.1h0M561.9 308.5h0M584.7 328.1h0M601.9 345.8h0"/>
<path stroke="#2f6ae9" d="M574.7 302.6h0M538.4 321.3h0"/>
<path stroke="#b408a3" d="M614.0 344.1h0"/>
<path stroke="#7b4acd" d="M557.6 329.4h0M595.2 344.4h0M581.6 320.2h0M612.6 320.2h0"/>
<path stroke="#c3009b" d="M616.2 338.4h0M615.8 322.4h0"/>
<path stroke="#0083f8" d="M581.4 303.2h0M596.6 323.6h0M789.9 322.6h0M605.4 331.6h0M596.6 317.8h0M592.1 300.5h0M612.4 332.7h0M852.8 322.4h0M557.6 335.2h0M825.2 322.5h0M598.6 348.1h0M577.4 314.3h0M765.5 322.4h0M691.9 322.4h0M612.5 323.6h0M591.1 305.1h0"/>
<path stroke="#ff0051" d="M622.8 310.7h0M628.1 316.5h0M609.0 319.0h0M628.9 314.1h0M604.0 324.7h0M618.5 331.6h0M615.0 346.4h0"/>
<path stroke="#008bfb" d="M259.0 322.4h0M275.6 322.4h0"/>
<path stroke="#d10092" d="M454.7 322.4h0M460.0 322.4h0M475.3 322.4h0"/>
<path stroke="#0083f8" d="M482.5 322.4h0"/>
<path stroke="#008bfb" d="M895.0 322.4h0M908.0 322.4h0M915.0 322.4h0M951.0 322.4h0M1034.0 322.4h0"/>
<path stroke="#7b4acd" d="M602.9 411.2h0M625.9 403.3h0M604.3 457.0h0M605.3 404.1h0M614.4 399.8h0M612.2 451.7h0M552.8 425.9h0M594.7 444.3h0"/>
<path stroke="#2f6ae9" d="M596.7 416.8h0"/>
<path stroke="#6956d7" d="M598.2 451.0h0M605.7 411.0h0M604.4 458.2h0M595.8 414.5h0M593.6 454.7h0M584.8 415.4h0M599.3 449.9h0M595.1 416.8h0M597.1 431.6h0M617.7 430.5h0M598.2 447.6h0M585.1 427.1h0"/>
<path stroke="#b408a3" d="M624.8 410.1h0M619.3 416.8h0M597.7 439.6h0M623.2 442.3h0"/>
<path stroke="#007bf5" d="M562.2 424.8h0M600.7 421.4h0M596.6 433.9h0M611.5 436.5h0M604.1 435.2h0M597.0 452.2h0M600.6 410.0h0"/>
<path stroke="#962db4" d="M589.3 427.1h0M605.2 393.7h0M600.1 453.2h0M596.0 451.2h0"/>
<path stroke="#008bfb" d="M551.4 426.6h0M458.7 424.8h0M577.1 429.3h0M533.3 425.5h0M605.4 421.3h0"/>
<path stroke="#ff0051" d="M662.4 424.8h0M725.6 424.6h0M630.7 437.8h0M646.7 429.5h0M637.8 424.8h0M668.5 423.6h0"/>
<path stroke="#0083f8" d="M607.8 439.8h0M601.9 389.6h0M520.6 424.6h0M535.0 424.8h0M486.9 424.8h0M593.7 411.0h0M545.1 425.7h0M602.5 390.7h0M605.0 431.7h0"/>
<path stroke="#0073ef" d="M567.3 423.7h0"/>
<path stroke="#8a3dc1" d="M605.4 422.5h0M571.0 428.1h0M602.6 429.3h0"/>
<path stroke="#c3009b" d="M592.3 446.6h0M604.5 396.0h0M595.4 401.8h0M599.9 424.8h0"/>
<path stroke="#f80068" d="M628.7 444.7h0"/>
<path stroke="#e7007e" d="M632.4 429.5h0M631.6 433.0h0"/>
<path stroke="#5261e1" d="M597.2 406.5h0M604.6 409.8h0M598.7 457.9h0M603.4 424.8h0M551.5 423.0h0M588.2 421.3h0M587.8 410.9h0M577.1 428.2h0M599.5 423.7h0"/>
<path stroke="#dd0088" d="M601.7 430.5h0M724.5 424.5h0M621.8 410.8h0M625.0 412.4h0M617.1 432.8h0M626.3 441.8h0M626.4 427.1h0M657.1 422.5h0M615.6 405.5h0M636.2 423.7h0"/>
<path stroke="#f00073" d="M615.9 431.6h0M638.1 433.6h0M698.8 424.8h0M622.5 433.0h0M629.6 438.9h0M626.0 415.8h0M615.0 415.7h0M620.1 448.1h0M635.6 417.9h0M625.9 413.5h0"/>
<path stroke="#d10092" d="M614.6 435.0h0M598.1 459.0h0M589.4 430.6h0M602.0 448.6h0M623.5 432.7h0M628.5 441.2h0M619.2 447.7h0M630.9 436.6h0"/>
<path stroke="#fe005d" d="M700.4 425.6h0"/>
<path stroke="#a41daa" d="M628.2 424.8h0M623.9 447.4h0M604.5 392.6h0"/>
<path stroke="#f80068" d="M632.1 418.9h0M643.3 429.2h0"/>
<path stroke="#a41daa" d="M617.8 436.3h0M611.1 414.3h0M610.6 424.8h0"/>
<path stroke="#c3009b" d="M694.2 425.8h0M595.1 452.4h0"/>
<path stroke="#6956d7" d="M574.2 423.5h0M603.9 427.1h0M608.9 397.1h0M601.1 441.8h0M596.4 428.2h0M589.6 453.5h0M614.7 403.2h0M603.8 445.5h0M583.2 422.5h0"/>
<path stroke="#e7007e" d="M618.4 445.4h0"/>
<path stroke="#f00073" d="M615.1 433.9h0M630.7 423.6h0M637.7 420.4h0M630.0 415.4h0M630.3 424.8h0M632.5 408.3h0M690.7 425.7h0M636.8 422.5h0M636.9 429.4h0M770.7 424.8h0M629.4 435.4h0"/>
<path stroke="#fe005d" d="M654.0 428.2h0M635.1 419.1h0M645.3 421.2h0M640.7 418.2h0"/>
<path stroke="#8a3dc1" d="M604.2 400.6h0M591.3 452.4h0M595.7 393.8h0M612.6 429.5h0M614.8 419.1h0M602.5 450.9h0"/>
<path stroke="#0083f8" d="M597.2 391.7h0M525.0 424.6h0M590.1 401.8h0M623.4 426.0h0M591.0 437.4h0M590.6 411.0h0M460.7 424.8h0M574.1 428.6h0M582.4 428.1h0M597.4 425.9h0M595.1 442.0h0"/>
<path stroke="#5261e1" d="M586.5 422.5h0M564.1 426.1h0M579.8 432.5h0M585.5 413.1h0M592.4 396.1h0"/>
<path stroke="#0073ef" d="M599.0 399.7h0M609.4 438.7h0M593.5 440.9h0M612.6 396.8h0M613.4 449.8h0"/>
<path stroke="#b408a3" d="M622.6 430.6h0M618.4 417.9h0M624.0 405.6h0M720.6 424.4h0"/>
<path stroke="#ff0051" d="M629.4 414.2h0M687.3 426.7h0M643.7 424.8h0M652.6 426.0h0M634.1 425.9h0"/>
<path stroke="#962db4" d="M586.2 417.9h0M605.6 444.4h0M622.8 436.5h0M585.8 434.2h0"/>
<path stroke="#7b4acd" d="M602.0 435.0h0M615.6 429.3h0M593.4 413.3h0M619.4 399.6h0M618.9 438.6h0M603.1 432.7h0M540.7 425.7h0"/>
<path stroke="#008bfb" d="M589.5 415.5h0M515.7 424.6h0M591.9 414.5h0M586.9 406.3h0M595.9 436.3h0M511.8 424.4h0M617.0 437.4h0"/>
<path stroke="#007bf5" d="M594.5 437.4h0M564.7 424.8h0M598.0 456.7h0M594.9 427.1h0M598.6 435.1h0M600.8 427.1h0M595.1 394.9h0M610.2 421.3h0M607.9 428.3h0"/>
<path stroke="#dd0088" d="M609.8 392.4h0M620.3 406.2h0M624.8 414.6h0M627.3 421.3h0M604.0 442.1h0"/>
<path stroke="#d10092" d="M605.0 428.3h0M610.3 444.6h0M630.1 437.7h0M609.0 420.2h0M671.4 422.6h0M618.1 401.9h0M613.6 425.9h0M624.7 411.2h0"/>
<path stroke="#ff0051" d="M706.3 424.1h0M646.4 428.4h0M762.0 424.8h0M701.9 424.8h0M669.6 422.4h0M628.7 448.3h0M632.1 442.5h0M670.9 428.4h0M666.0 425.9h0M641.5 425.9h0M629.8 417.8h0M685.3 423.9h0"/>
<path stroke="#8a3dc1" d="M580.9 423.7h0M595.1 403.0h0M588.5 423.6h0M596.0 450.1h0M585.6 438.9h0M592.4 442.0h0M590.3 429.4h0"/>
<path stroke="#0083f8" d="M609.3 447.9h0M596.4 427.1h0M582.5 419.3h0M578.1 432.7h0M599.5 429.4h0M626.8 445.1h0"/>
<path stroke="#b408a3" d="M600.6 420.3h0"/>
<path stroke="#e7007e" d="M602.1 431.6h0M630.3 431.9h0M618.8 435.1h0"/>
<path stroke="#5261e1" d="M606.0 436.3h0M591.2 417.9h0"/>
<path stroke="#007bf5" d="M577.5 425.9h0M590.7 405.3h0M582.8 436.5h0M597.3 407.7h0M600.5 425.9h0M571.0 419.3h0M586.8 414.4h0M596.1 446.6h0M599.6 402.0h0M608.3 429.4h0M584.4 433.0h0"/>
<path stroke="#0073ef" d="M600.6 443.0h0M602.6 457.7h0M591.8 406.4h0M605.1 434.0h0"/>
<path stroke="#f00073" d="M619.8 442.0h0M683.8 423.1h0M677.3 426.9h0M693.1 424.8h0M671.7 427.0h0M616.2 418.0h0M631.0 414.2h0"/>
<path stroke="#dd0088" d="M599.5 422.5h0M619.6 452.3h0M614.7 447.5h0M610.5 399.1h0M599.8 436.2h0"/>
<path stroke="#962db4" d="M613.1 422.5h0M602.0 444.1h0"/>
<path stroke="#a41daa" d="M608.2 426.0h0M628.7 411.9h0"/>
<path stroke="#f80068" d="M654.2 420.2h0M625.8 398.8h0M659.7 428.3h0M708.9 425.4h0"/>
<path stroke="#d10092" d="M620.5 449.3h0M629.5 401.3h0M599.2 392.9h0M599.8 397.6h0M647.4 426.9h0M602.9 452.0h0M602.6 414.6h0M624.4 440.6h0M651.0 423.6h0M611.5 416.6h0M602.1 394.1h0M624.3 449.7h0M621.2 405.0h0M621.9 396.8h0"/>
<path stroke="#c3009b" d="M609.2 434.0h0M626.6 446.3h0M602.9 398.7h0M649.0 422.7h0M608.4 437.5h0"/>
<path stroke="#7b4acd" d="M609.3 406.3h0M611.7 450.5h0M621.6 443.4h0M604.9 449.0h0M584.5 435.4h0M618.6 404.2h0M604.2 391.4h0M606.7 404.0h0M621.7 419.0h0M592.5 400.7h0M600.0 406.6h0M590.8 404.1h0M615.0 420.3h0M604.4 397.2h0M598.5 411.1h0M587.7 428.3h0"/>
<path stroke="#6956d7" d="M590.9 450.1h0M613.2 447.0h0M598.0 453.3h0M599.5 420.2h0M595.0 453.5h0"/>
<path stroke="#fe005d" d="M660.3 421.3h0M630.8 415.4h0"/>
<path stroke="#fe005d" d="M656.9 424.8h0M748.0 424.7h0M645.6 418.9h0M644.2 420.1h0"/>
<path stroke="#b408a3" d="M620.0 448.9h0M619.6 444.3h0M616.4 398.6h0"/>
<path stroke="#962db4" d="M631.8 440.1h0M601.0 408.9h0M596.6 390.6h0M600.4 401.0h0M597.9 438.5h0M616.6 448.7h0M595.8 399.5h0"/>
<path stroke="#0073ef" d="M600.7 412.3h0M600.2 415.7h0M611.2 417.8h0"/>
<path stroke="#a41daa" d="M609.4 417.9h0M625.3 409.0h0M606.7 424.8h0M618.4 439.7h0M623.3 452.8h0M603.5 420.2h0M632.0 441.3h0"/>
<path stroke="#008bfb" d="M501.4 424.7h0M584.2 420.1h0M590.6 431.7h0M525.3 424.7h0M536.0 424.0h0M467.4 424.8h0"/>
<path stroke="#7b4acd" d="M607.3 453.7h0M619.6 413.3h0M563.6 421.0h0M597.7 408.8h0M607.9 436.4h0M569.3 427.0h0"/>
<path stroke="#f00073" d="M626.5 430.5h0M628.7 440.0h0M634.7 436.3h0"/>
<path stroke="#6956d7" d="M616.6 427.1h0M580.0 429.2h0M611.3 415.5h0M620.1 420.1h0M599.8 456.6h0M599.9 396.4h0M610.7 435.3h0M570.8 423.7h0M586.1 431.8h0M591.2 425.9h0M594.6 424.8h0M550.9 423.9h0"/>
<path stroke="#ff0051" d="M663.0 428.8h0M662.7 426.1h0M679.2 426.1h0M675.3 424.8h0M636.7 427.1h0M640.4 425.9h0M706.2 424.8h0M767.8 424.8h0"/>
<path stroke="#0083f8" d="M495.4 425.0h0M586.6 431.7h0M599.4 412.3h0M593.9 457.0h0M589.7 420.2h0M597.6 455.6h0"/>
<path stroke="#d10092" d="M616.4 414.6h0M616.8 428.2h0M604.6 408.7h0M610.8 394.4h0M620.3 446.9h0M607.9 435.2h0M608.1 414.4h0M607.7 446.8h0M622.0 401.5h0M615.3 396.4h0"/>
<path stroke="#c3009b" d="M611.8 452.8h0M597.0 400.8h0"/>
<path stroke="#5261e1" d="M600.0 422.5h0M565.9 429.2h0M574.9 421.0h0M561.2 421.7h0M590.1 423.7h0M580.4 431.4h0"/>
<path stroke="#8a3dc1" d="M602.1 445.2h0M587.8 412.1h0M546.2 425.7h0M591.7 422.5h0M558.3 423.5h0M574.5 426.1h0M580.1 417.1h0M599.6 418.0h0"/>
<path stroke="#e7007e" d="M633.4 416.6h0M637.9 431.4h0M647.0 430.7h0M604.3 407.5h0"/>
<path stroke="#dd0088" d="M640.1 423.7h0M731.9 424.7h0M619.8 419.1h0"/>
<path stroke="#007bf5" d="M579.8 422.6h0M614.8 397.5h0M596.5 445.3h0M599.9 433.9h0M598.0 444.2h0M598.0 405.4h0M571.4 430.3h0"/>
<path stroke="#f80068" d="M639.6 434.7h0M679.9 424.8h0M650.7 421.3h0"/>
<path stroke="#6956d7" d="M598.2 424.8h0M621.9 438.8h0M593.2 409.9h0M590.4 440.9h0"/>
<path stroke="#fe005d" d="M647.4 429.1h0M638.4 414.9h0"/>
<path stroke="#007bf5" d="M572.0 425.9h0M594.0 443.2h0M596.7 454.5h0M613.8 430.5h0M605.3 440.9h0M601.1 407.8h0M588.5 409.8h0M599.8 403.2h0M576.4 431.6h0M615.5 412.3h0M596.3 407.6h0M585.1 418.9h0"/>
<path stroke="#a41daa" d="M610.8 433.0h0M614.1 441.9h0M624.5 424.8h0M612.2 410.8h0"/>
<path stroke="#b408a3" d="M615.1 451.0h0M620.4 421.3h0M622.5 450.4h0M623.6 423.7h0M733.3 424.7h0M615.0 445.3h0"/>
<path stroke="#dd0088" d="M603.4 429.4h0M613.4 408.9h0M619.0 440.9h0M605.1 450.1h0M609.7 432.9h0M631.5 420.1h0M610.1 449.3h0M601.7 391.9h0"/>
<path stroke="#0073ef" d="M607.8 454.8h0M601.1 449.8h0M605.1 452.4h0M568.7 424.8h0M607.1 407.5h0M608.1 394.8h0"/>
<path stroke="#008bfb" d="M530.9 424.2h0M590.9 398.4h0M636.6 431.7h0M535.4 425.6h0"/>
<path stroke="#ff0051" d="M738.5 424.9h0M688.0 423.9h0M758.5 424.8h0M712.1 424.8h0M633.3 422.4h0M639.3 432.5h0M663.0 427.5h0M645.5 431.9h0"/>
<path stroke="#f80068" d="M653.7 422.5h0M629.4 407.2h0"/>
<path stroke="#c3009b" d="M697.1 425.9h0M668.3 424.8h0"/>
<path stroke="#5261e1" d="M593.6 412.2h0M569.7 421.5h0M592.6 438.6h0M546.2 423.9h0M592.0 436.3h0"/>
<path stroke="#8a3dc1" d="M570.6 422.6h0M634.7 428.2h0M611.4 442.3h0"/>
<path stroke="#0083f8" d="M586.8 426.0h0M637.8 429.2h0M598.7 419.1h0M577.4 424.8h0M611.7 443.5h0M603.3 446.7h0M628.2 429.5h0M626.9 418.9h0M599.2 404.3h0"/>
<path stroke="#d10092" d="M614.8 413.4h0M615.4 436.2h0M642.0 431.4h0M613.6 406.6h0M595.2 447.8h0M656.8 427.1h0M622.0 435.3h0M608.8 442.1h0M591.8 447.8h0"/>
<path stroke="#7b4acd" d="M614.2 452.1h0M608.7 409.8h0M580.7 418.2h0M619.1 398.4h0M618.7 450.0h0M612.1 420.1h0M603.6 390.3h0M607.8 458.3h0M607.4 419.0h0"/>
<path stroke="#962db4" d="M586.4 437.5h0M608.4 408.6h0M609.7 450.2h0M613.4 400.9h0M599.1 436.2h0M604.5 401.8h0M606.7 402.8h0"/>
<path stroke="#f00073" d="M630.2 447.1h0M625.2 425.9h0M687.5 424.8h0M623.6 401.1h0M628.1 403.7h0M623.1 437.6h0M671.7 425.9h0M665.9 424.8h0"/>
<path stroke="#8a3dc1" d="M587.3 429.4h0M559.7 426.8h0M554.7 423.7h0M594.9 422.5h0M587.8 434.1h0M594.2 430.5h0M594.9 435.1h0M622.9 416.6h0M593.1 439.7h0M593.2 400.7h0"/>
<path stroke="#2f6ae9" d="M592.5 413.3h0"/>
<path stroke="#e7007e" d="M629.4 428.3h0"/>
<path stroke="#008bfb" d="M509.0 425.2h0"/>
<path stroke="#f00073" d="M627.2 427.1h0M655.8 425.9h0M654.4 429.4h0M625.0 406.7h0M642.8 423.7h0"/>
<path stroke="#d10092" d="M628.3 436.5h0M621.6 422.5h0M637.7 419.3h0M626.4 402.2h0M603.9 432.9h0M609.3 401.7h0M613.9 407.7h0M591.0 443.2h0M605.6 415.6h0M612.1 454.0h0M611.0 409.6h0"/>
<path stroke="#0083f8" d="M617.8 422.5h0M559.8 427.9h0M574.7 427.3h0M587.1 442.1h0M594.9 421.4h0M597.5 415.7h0M556.1 424.8h0M578.6 422.5h0M500.9 424.8h0M569.9 429.2h0M597.3 460.2h0M559.8 425.8h0"/>
<path stroke="#7b4acd" d="M612.2 408.5h0M610.6 434.1h0M608.6 443.3h0M604.2 439.8h0M616.2 410.0h0M599.7 421.4h0M607.3 399.4h0M608.0 444.4h0"/>
<path stroke="#dd0088" d="M613.0 430.6h0M622.2 409.7h0M627.2 404.9h0M642.7 420.4h0M613.7 404.3h0M629.5 431.8h0M623.8 404.5h0"/>
<path stroke="#962db4" d="M617.1 406.4h0M630.4 428.3h0M613.5 424.8h0M615.0 422.5h0M606.6 393.6h0"/>
<path stroke="#a41daa" d="M617.4 429.4h0M618.7 425.9h0M623.4 423.6h0M631.3 417.7h0"/>
<path stroke="#c3009b" d="M666.3 428.2h0M608.7 431.7h0M625.8 422.5h0M619.4 408.7h0M664.8 422.5h0"/>
<path stroke="#f80068" d="M688.1 424.8h0M691.7 423.8h0M619.6 411.0h0M640.2 418.2h0"/>
<path stroke="#ff0051" d="M648.6 428.0h0M631.0 413.0h0M685.6 422.9h0M637.9 430.3h0M635.5 434.0h0M631.9 411.8h0M638.2 421.5h0M644.9 423.6h0M642.4 430.3h0M655.6 423.7h0M682.9 424.8h0M708.7 424.2h0M675.2 423.7h0M668.9 426.0h0"/>
<path stroke="#fe005d" d="M646.9 426.0h0"/>
<path stroke="#5261e1" d="M607.5 422.5h0M592.9 420.2h0M585.0 423.6h0M589.9 434.0h0M591.0 451.2h0"/>
<path stroke="#6956d7" d="M592.9 445.5h0M586.4 420.2h0M597.9 397.4h0M576.9 430.4h0M583.0 430.7h0M627.7 433.0h0"/>
<path stroke="#b408a3" d="M622.8 399.2h0M618.3 451.2h0"/>
<path stroke="#007bf5" d="M592.2 409.9h0M552.5 427.0h0M583.5 417.8h0M594.8 397.2h0M595.3 408.7h0M545.6 422.9h0"/>
<path stroke="#007bf5" d="M612.7 401.5h0M602.2 437.3h0M604.4 402.9h0M593.7 434.0h0M599.9 402.1h0M598.6 410.0h0M589.7 444.3h0M589.9 415.6h0M606.5 394.9h0M595.4 419.1h0M585.6 411.9h0M597.2 441.9h0"/>
<path stroke="#0083f8" d="M488.2 424.6h0M590.8 430.5h0M547.4 426.7h0M531.2 425.4h0M578.4 419.2h0M590.3 408.7h0M598.5 446.5h0M567.4 420.4h0M596.1 425.9h0M586.1 445.6h0M575.5 422.3h0"/>
<path stroke="#f00073" d="M621.9 428.3h0M622.4 398.0h0M613.7 438.4h0M632.2 426.0h0M621.3 429.5h0M661.3 420.8h0"/>
<path stroke="#962db4" d="M606.1 413.3h0"/>
<path stroke="#0073ef" d="M545.7 424.8h0M611.6 455.2h0"/>
<path stroke="#b408a3" d="M611.5 407.3h0M618.8 420.2h0M624.1 444.0h0"/>
<path stroke="#8a3dc1" d="M594.3 428.2h0M619.1 414.5h0M604.1 438.6h0M555.6 422.6h0M592.9 405.3h0M595.2 455.8h0"/>
<path stroke="#5261e1" d="M582.0 424.8h0M589.5 413.2h0M594.9 417.9h0M600.5 393.0h0M612.8 445.8h0M589.2 404.0h0M597.3 398.6h0"/>
<path stroke="#6956d7" d="M584.3 409.5h0M595.2 432.8h0M587.3 408.6h0M598.1 430.5h0M603.2 437.5h0M576.7 423.7h0M614.3 437.3h0M606.2 423.6h0"/>
<path stroke="#ff0051" d="M634.2 432.8h0M632.0 427.2h0M666.2 423.7h0M651.1 429.4h0M718.0 425.1h0M649.8 424.8h0M628.4 422.5h0M679.2 427.4h0M627.5 442.4h0M645.8 422.4h0M636.1 416.8h0M680.4 422.2h0"/>
<path stroke="#dd0088" d="M660.6 426.0h0M626.9 413.1h0M632.8 409.5h0"/>
<path stroke="#008bfb" d="M600.2 446.4h0M475.3 424.7h0M493.9 424.7h0M506.3 424.4h0M454.9 424.8h0M481.2 424.9h0"/>
<path stroke="#d10092" d="M617.5 409.9h0M623.2 417.8h0M643.1 422.6h0M615.1 432.8h0M596.9 395.1h0M604.8 399.5h0M611.4 440.0h0"/>
<path stroke="#c3009b" d="M628.3 416.6h0M621.2 444.6h0M590.8 412.2h0M754.0 424.8h0M663.3 423.5h0"/>
<path stroke="#a41daa" d="M630.3 430.7h0M619.2 446.6h0M628.5 409.6h0M605.4 443.2h0M608.8 445.6h0M626.5 433.8h0"/>
<path stroke="#f80068" d="M657.5 424.8h0M698.1 424.0h0M636.4 412.2h0M665.6 421.4h0M661.8 422.1h0"/>
<path stroke="#7b4acd" d="M617.4 431.7h0M576.0 427.1h0M610.5 395.6h0M590.0 424.8h0M608.6 398.2h0M617.2 423.7h0M616.4 402.1h0M616.0 453.2h0"/>
<path stroke="#a41daa" d="M709.9 424.8h0M612.9 419.0h0M618.0 405.3h0M615.7 421.4h0"/>
<path stroke="#0073ef" d="M480.6 424.8h0M610.3 423.6h0M596.4 448.8h0"/>
<path stroke="#c3009b" d="M621.9 400.3h0M621.2 403.8h0M648.2 423.7h0M609.5 452.5h0"/>
<path stroke="#2f6ae9" d="M593.6 423.7h0"/>
<path stroke="#f80068" d="M652.8 424.8h0M636.7 421.4h0"/>
<path stroke="#fe005d" d="M638.4 417.1h0M634.3 414.5h0"/>
<path stroke="#008bfb" d="M454.1 424.8h0M582.7 421.5h0M579.1 416.9h0M587.2 438.7h0M471.0 424.9h0M584.9 424.8h0M542.2 424.8h0"/>
<path stroke="#b408a3" d="M604.9 414.4h0M619.1 443.2h0"/>
<path stroke="#e7007e" d="M625.8 438.4h0M639.1 422.6h0M631.1 407.1h0M617.2 415.6h0"/>
<path stroke="#5261e1" d="M590.8 421.4h0M574.1 418.5h0M586.9 405.1h0M613.3 393.3h0"/>
<path stroke="#7b4acd" d="M610.6 400.3h0M606.3 417.9h0M624.1 448.5h0M606.6 415.6h0M576.0 418.0h0M619.7 424.8h0M604.3 406.4h0M606.6 413.2h0M584.3 426.0h0M613.1 405.0h0M610.2 438.8h0"/>
<path stroke="#007bf5" d="M593.3 429.4h0M610.8 428.3h0M582.0 425.9h0M596.9 437.3h0M588.6 443.3h0M593.5 445.5h0"/>
<path stroke="#d10092" d="M608.2 427.1h0M613.1 426.0h0M645.2 427.2h0M583.6 414.2h0M610.8 412.0h0M626.8 428.2h0M610.2 427.1h0M602.2 438.4h0M627.7 434.2h0M606.0 455.9h0"/>
<path stroke="#6956d7" d="M602.4 413.4h0M623.2 434.1h0M609.3 449.1h0M608.8 423.6h0M582.3 416.0h0M606.9 457.2h0M623.3 439.9h0M598.1 394.0h0M610.3 456.3h0M595.6 396.1h0M582.3 430.3h0"/>
<path stroke="#962db4" d="M634.0 420.2h0M604.6 454.7h0"/>
<path stroke="#8a3dc1" d="M598.5 389.4h0M599.7 432.8h0M586.5 444.5h0M621.6 424.8h0M605.1 459.3h0M611.5 402.6h0M606.7 421.3h0M617.5 412.2h0"/>
<path stroke="#f00073" d="M629.9 408.4h0M635.2 411.0h0M626.0 436.1h0M705.8 425.5h0M625.4 431.6h0"/>
<path stroke="#ff0051" d="M633.5 410.7h0M696.1 423.7h0M686.4 425.7h0M681.5 426.5h0M680.5 423.5h0M622.5 407.3h0M653.6 427.1h0M702.4 424.1h0M763.8 424.8h0"/>
<path stroke="#dd0088" d="M615.2 439.6h0M643.7 419.3h0M608.6 416.7h0"/>
<path stroke="#0083f8" d="M592.4 416.8h0M590.6 427.1h0M578.4 421.4h0M569.0 427.0h0M584.0 416.6h0M585.7 440.1h0M529.7 424.8h0M587.6 407.5h0M601.2 418.0h0M566.3 428.1h0"/>
<path stroke="#e7007e" d="M621.2 441.1h0M626.3 442.9h0M615.9 443.0h0"/>
<path stroke="#b408a3" d="M613.4 428.2h0M625.2 419.1h0M741.7 424.7h0M626.5 420.3h0M607.9 400.5h0"/>
<path stroke="#f80068" d="M670.3 421.2h0M630.2 445.9h0M621.9 415.5h0M627.2 402.5h0M697.2 424.8h0M649.6 420.5h0"/>
<path stroke="#0073ef" d="M608.0 391.3h0"/>
<path stroke="#7b4acd" d="M592.0 448.9h0M601.4 454.3h0M594.5 392.6h0M610.1 431.8h0M593.9 438.6h0M559.9 422.8h0M601.8 405.5h0"/>
<path stroke="#962db4" d="M616.9 427.1h0M631.6 438.9h0M636.4 415.6h0"/>
<path stroke="#f00073" d="M627.2 406.0h0M631.3 421.3h0"/>
<path stroke="#d10092" d="M626.5 439.5h0M619.9 407.6h0M621.8 408.5h0M639.6 416.0h0M624.0 435.0h0M628.8 423.6h0M611.5 437.6h0"/>
<path stroke="#8a3dc1" d="M574.7 429.8h0M580.3 420.4h0M596.9 413.4h0M587.7 424.8h0M624.3 437.2h0"/>
<path stroke="#fe005d" d="M643.7 432.5h0"/>
<path stroke="#a41daa" d="M611.6 441.1h0M624.7 421.4h0M618.4 421.4h0M614.4 446.4h0M621.1 414.3h0"/>
<path stroke="#007bf5" d="M601.2 440.7h0M592.2 428.2h0M612.2 403.8h0M539.9 423.9h0M604.2 426.0h0M592.2 397.2h0M570.7 420.4h0M556.0 422.2h0M589.1 435.2h0M615.9 423.7h0"/>
<path stroke="#c3009b" d="M621.7 451.6h0"/>
<path stroke="#dd0088" d="M603.1 460.0h0M605.8 453.6h0M601.9 455.5h0M620.9 431.8h0M627.5 430.7h0M618.4 403.0h0"/>
<path stroke="#ff0051" d="M631.0 435.4h0M652.0 428.3h0M638.7 427.0h0M634.9 437.4h0M620.6 427.1h0M658.2 422.5h0M691.0 423.0h0M627.7 410.7h0M646.3 424.8h0M673.6 423.7h0M627.8 426.0h0M643.1 421.5h0M636.9 438.6h0M676.8 422.7h0"/>
<path stroke="#6956d7" d="M603.0 404.4h0M608.8 410.9h0M586.3 439.8h0M601.2 428.2h0M602.1 399.8h0M608.5 412.1h0M575.5 424.8h0M605.8 412.1h0M603.7 430.6h0M601.7 458.9h0M602.9 416.9h0M584.3 437.7h0M592.3 403.0h0"/>
<path stroke="#5261e1" d="M609.3 456.0h0M560.7 423.8h0M595.1 431.7h0M556.0 427.4h0M591.1 435.1h0"/>
<path stroke="#0083f8" d="M589.2 441.0h0M571.5 424.8h0M581.3 427.0h0M533.6 424.1h0M595.0 398.4h0M563.6 422.3h0M622.4 445.8h0M565.9 422.6h0M599.6 440.8h0M635.4 413.3h0M587.7 419.0h0"/>
<path stroke="#008bfb" d="M592.3 439.7h0M543.2 423.9h0M595.3 404.1h0"/>
<path stroke="#5261e1" d="M584.4 428.3h0M576.3 420.3h0M606.2 405.2h0M566.5 421.5h0M598.8 414.5h0"/>
<path stroke="#c3009b" d="M591.6 432.8h0M598.1 396.3h0M600.6 423.7h0"/>
<path stroke="#8a3dc1" d="M599.3 403.1h0M610.4 448.1h0M616.8 453.5h0M557.1 426.1h0M597.6 443.1h0M591.7 407.6h0"/>
<path stroke="#fe005d" d="M749.1 424.8h0M682.9 425.7h0M742.7 424.8h0"/>
<path stroke="#f80068" d="M632.0 434.2h0M652.3 420.2h0M655.3 421.4h0"/>
<path stroke="#7b4acd" d="M594.8 406.4h0M622.4 413.1h0M614.4 440.7h0M617.2 400.7h0M562.9 428.6h0M608.1 430.6h0M603.6 416.7h0M573.5 431.1h0M573.3 419.8h0M611.3 397.9h0"/>
<path stroke="#008bfb" d="M586.2 432.9h0M537.8 424.8h0"/>
<path stroke="#f00073" d="M689.0 426.6h0M629.7 420.1h0M616.1 411.2h0M684.2 423.9h0M666.8 427.1h0M659.0 427.1h0"/>
<path stroke="#ff0051" d="M701.8 425.5h0M671.5 424.8h0M670.0 427.2h0M659.1 423.6h0M769.5 424.8h0"/>
<path stroke="#962db4" d="M626.6 416.9h0M613.7 444.1h0M624.9 429.3h0M626.8 450.8h0M610.8 406.1h0M588.5 436.4h0M645.6 417.7h0M607.4 395.9h0"/>
<path stroke="#e7007e" d="M636.9 424.8h0M647.7 421.6h0"/>
<path stroke="#d10092" d="M624.4 407.8h0M605.2 398.3h0M638.5 428.1h0M605.6 451.3h0M636.8 435.1h0M676.8 425.9h0M595.5 415.6h0M603.5 419.0h0M642.5 417.1h0M617.9 397.3h0M626.8 418.0h0M618.7 434.0h0M635.4 430.5h0M607.7 451.4h0"/>
<path stroke="#007bf5" d="M602.8 395.3h0M589.8 399.5h0M583.1 429.5h0M600.0 439.6h0M581.9 433.6h0M592.6 419.1h0M603.8 447.8h0M585.2 410.7h0"/>
<path stroke="#6956d7" d="M600.2 419.1h0M613.3 416.8h0M594.5 448.9h0M554.7 424.8h0M601.1 447.5h0M551.4 425.7h0"/>
<path stroke="#dd0088" d="M643.1 427.0h0M623.0 402.7h0M617.3 396.1h0M627.9 443.6h0M648.5 425.9h0"/>
<path stroke="#0083f8" d="M583.6 421.3h0M566.4 425.9h0M470.1 424.9h0M564.4 423.5h0M539.7 424.8h0M608.4 405.2h0"/>
<path stroke="#a41daa" d="M641.9 428.1h0M623.2 412.0h0"/>
<path stroke="#0073ef" d="M586.5 416.7h0M612.4 413.1h0M551.8 424.8h0M625.5 399.9h0"/>
<path stroke="#2f6ae9" d="M608.2 441.0h0M563.8 427.3h0"/>
<path stroke="#f00073" d="M791.1 424.8h0"/>
<path stroke="#962db4" d="M582.7 542.0h0M497.5 527.0h0M718.5 527.1h0"/>
<path stroke="#ff0051" d="M646.5 531.3h0M640.2 533.1h0M655.1 529.9h0M611.4 513.0h0M638.2 523.7h0M591.4 537.5h0M602.2 500.5h0M630.1 541.9h0M594.7 515.3h0M603.3 507.4h0"/>
<path stroke="#0083f8" d="M610.7 557.3h0M579.3 521.4h0M610.9 520.0h0M596.4 517.6h0M612.1 550.3h0M585.8 544.3h0M582.6 524.7h0M709.3 527.2h0M582.9 518.9h0M611.7 506.0h0M612.5 548.0h0M619.1 520.2h0M705.9 527.3h0M578.4 519.1h0M541.5 526.3h0M579.6 534.9h0M623.8 548.6h0"/>
<path stroke="#7b4acd" d="M618.0 532.7h0M481.6 527.0h0"/>
<path stroke="#008bfb" d="M619.9 508.9h0M723.8 527.1h0M600.7 532.7h0M597.2 561.4h0M666.6 527.0h0M556.2 525.7h0M610.8 524.7h0M602.3 543.1h0M731.8 527.0h0M602.8 520.1h0"/>
<path stroke="#fe005d" d="M621.5 509.9h0"/>
<path stroke="#b408a3" d="M593.2 523.5h0M602.3 522.4h0M609.5 542.2h0M617.1 550.7h0M589.8 521.2h0M574.9 529.3h0M624.4 506.5h0M586.7 542.0h0M617.4 516.8h0M598.6 521.3h0M594.3 532.8h0M588.4 540.8h0M632.0 512.1h0"/>
<path stroke="#6956d7" d="M600.9 497.0h0M604.5 505.1h0M596.3 524.7h0M601.1 538.5h0M588.2 527.0h0M593.5 527.0h0"/>
<path stroke="#007bf5" d="M590.0 543.3h0M585.1 533.9h0M590.2 523.5h0M581.4 544.3h0M637.0 530.3h0M633.3 538.2h0"/>
<path stroke="#f80068" d="M650.6 529.9h0M649.9 528.9h0M685.0 526.2h0"/>
<path stroke="#c3009b" d="M617.4 521.3h0M615.1 522.3h0M625.4 533.9h0"/>
<path stroke="#a41daa" d="M610.0 531.7h0M599.5 515.5h0M592.6 540.9h0M595.0 500.1h0M601.7 501.7h0M697.8 527.2h0M615.1 545.8h0M581.7 523.5h0M622.7 517.9h0"/>
<path stroke="#e7007e" d="M637.9 532.6h0M646.5 528.1h0"/>
<path stroke="#5261e1" d="M588.3 535.1h0"/>
<path stroke="#d10092" d="M614.3 523.5h0"/>
<path stroke="#7b4acd" d="M585.3 543.2h0M592.8 528.2h0M491.7 526.9h0M507.0 526.9h0M624.2 504.3h0M619.9 499.9h0M588.9 506.2h0"/>
<path stroke="#dd0088" d="M649.6 525.1h0"/>
<path stroke="#fe005d" d="M674.2 526.0h0M633.3 535.9h0"/>
<path stroke="#e7007e" d="M637.1 525.9h0M643.7 531.9h0"/>
<path stroke="#007bf5" d="M698.3 526.9h0M596.1 507.1h0M527.0 527.1h0M612.4 553.8h0M593.1 535.2h0M619.1 527.0h0M594.2 505.9h0M589.1 514.2h0"/>
<path stroke="#0083f8" d="M583.3 517.8h0M598.9 513.2h0M603.6 493.6h0M688.1 527.0h0M609.0 501.3h0M590.0 547.9h0M602.3 548.9h0M594.8 528.2h0M604.8 539.5h0M620.6 539.5h0"/>
<path stroke="#c3009b" d="M594.7 495.4h0M575.6 523.6h0M630.4 525.9h0M631.4 513.2h0M608.0 511.1h0M614.4 551.6h0"/>
<path stroke="#5261e1" d="M595.4 498.9h0M588.6 508.5h0M593.4 542.2h0M594.4 555.1h0"/>
<path stroke="#f80068" d="M590.3 524.7h0"/>
<path stroke="#008bfb" d="M618.0 507.8h0M602.3 555.8h0M591.3 508.4h0M536.8 527.0h0M607.3 502.0h0M575.3 532.7h0M567.4 527.0h0M550.1 527.0h0M619.4 553.0h0M574.9 535.0h0M702.3 527.3h0M601.9 559.3h0M583.3 512.0h0M604.6 509.7h0M625.9 507.4h0M606.1 552.0h0"/>
<path stroke="#ff0051" d="M590.9 544.4h0M642.3 527.0h0M660.7 527.0h0M627.0 520.1h0M594.9 558.6h0M623.3 508.8h0M606.5 549.7h0M613.4 552.8h0M631.3 523.6h0M622.6 536.1h0"/>
<path stroke="#6956d7" d="M600.7 536.2h0M596.3 525.8h0M590.2 549.1h0M597.4 560.3h0M621.0 512.2h0M501.9 527.0h0M601.2 536.2h0"/>
<path stroke="#a41daa" d="M602.7 495.9h0M617.1 546.2h0M616.8 515.7h0M593.1 510.6h0M598.2 505.2h0"/>
<path stroke="#b408a3" d="M614.3 508.2h0M628.7 516.7h0M572.9 527.0h0M618.1 514.6h0M602.4 554.6h0M605.6 508.8h0M607.4 500.8h0M625.3 512.0h0"/>
<path stroke="#7b4acd" d="M486.3 527.0h0M506.8 526.8h0"/>
<path stroke="#6956d7" d="M606.6 532.7h0M592.1 527.0h0M594.0 494.2h0M597.2 502.9h0M592.7 520.0h0M594.6 497.8h0M597.7 498.3h0M602.1 512.0h0M602.8 516.6h0M615.9 536.4h0"/>
<path stroke="#f00073" d="M639.5 527.0h0M631.7 535.0h0"/>
<path stroke="#a41daa" d="M608.7 510.7h0M592.3 501.4h0M580.1 514.6h0M593.8 559.8h0M597.3 525.9h0M597.3 510.9h0M578.1 537.1h0M620.5 530.4h0M646.2 525.9h0M596.3 520.0h0M579.9 520.2h0"/>
<path stroke="#0083f8" d="M611.9 556.2h0M601.2 558.1h0M605.0 522.5h0M631.7 537.3h0M587.4 547.8h0M629.9 538.5h0M600.3 551.1h0M595.4 503.6h0M615.1 509.4h0M587.7 528.2h0M581.8 527.0h0M612.8 538.7h0M632.3 521.4h0M608.5 515.6h0M582.2 538.5h0M729.4 527.0h0M583.1 540.8h0M665.6 525.2h0M643.0 523.3h0"/>
<path stroke="#b408a3" d="M589.9 536.3h0M630.2 540.8h0M599.1 556.8h0M614.4 507.1h0"/>
<path stroke="#962db4" d="M599.6 558.0h0M594.7 501.3h0"/>
<path stroke="#007bf5" d="M596.3 508.3h0M604.6 550.0h0M588.4 530.5h0M578.5 536.0h0M593.4 553.9h0M612.9 544.6h0M583.2 531.6h0"/>
<path stroke="#0073ef" d="M605.3 560.0h0"/>
<path stroke="#e7007e" d="M630.3 527.0h0"/>
<path stroke="#5261e1" d="M616.0 529.3h0M606.6 530.4h0M588.3 531.6h0"/>
<path stroke="#008bfb" d="M574.3 524.7h0M715.6 527.1h0M563.7 525.9h0M622.1 515.6h0M577.9 538.3h0M576.6 527.0h0M754.9 527.0h0M682.2 527.0h0M535.2 526.4h0M605.5 516.8h0M573.4 525.9h0M547.8 527.0h0M599.4 540.8h0"/>
<path stroke="#ff0051" d="M628.0 522.4h0M625.3 513.2h0M618.8 537.2h0M631.2 536.2h0M624.7 527.0h0M614.5 505.9h0M623.4 535.0h0M629.8 532.7h0M597.5 538.5h0M610.4 515.3h0M612.4 552.7h0M638.1 522.5h0"/>
<path stroke="#fe005d" d="M662.8 528.0h0M614.3 518.8h0M663.0 525.1h0M667.7 528.8h0M620.2 534.9h0M631.9 517.8h0"/>
<path stroke="#ff0051" d="M634.5 529.2h0M608.4 558.8h0M634.3 530.3h0M607.4 553.2h0M636.0 517.0h0M656.1 529.0h0M627.3 514.3h0M618.0 551.9h0M624.2 547.5h0M605.0 529.3h0M627.1 508.6h0M607.2 521.3h0"/>
<path stroke="#962db4" d="M580.3 522.5h0"/>
<path stroke="#6956d7" d="M598.3 516.7h0M593.3 556.2h0M586.7 539.7h0"/>
<path stroke="#dd0088" d="M636.0 519.2h0"/>
<path stroke="#f00073" d="M635.3 532.6h0"/>
<path stroke="#007bf5" d="M598.3 517.8h0M612.8 546.9h0M542.1 527.0h0M604.0 524.7h0M719.1 527.0h0M582.2 513.2h0M590.5 503.8h0M576.7 528.1h0"/>
<path stroke="#008bfb" d="M600.3 530.4h0M620.5 523.6h0M561.3 528.2h0M562.8 524.8h0M676.7 528.0h0M549.9 528.2h0M584.1 529.3h0M578.8 528.1h0M545.3 527.9h0M726.5 527.1h0M575.6 533.9h0M540.1 527.7h0M591.6 532.8h0"/>
<path stroke="#5261e1" d="M614.5 539.9h0M591.7 529.3h0"/>
<path stroke="#8a3dc1" d="M501.9 527.0h0M626.6 536.2h0M628.6 531.6h0"/>
<path stroke="#7b4acd" d="M615.1 550.5h0M614.2 531.7h0"/>
<path stroke="#e7007e" d="M650.0 527.0h0"/>
<path stroke="#0083f8" d="M604.1 513.2h0M619.9 533.8h0M605.4 536.1h0M525.9 527.1h0M603.1 557.0h0M605.0 541.8h0M604.7 539.7h0M616.8 528.1h0M713.6 527.0h0M515.4 527.2h0M593.8 544.5h0M621.2 519.0h0M597.8 514.4h0M650.4 528.0h0"/>
<path stroke="#a41daa" d="M601.6 502.8h0M586.5 529.3h0M578.3 516.9h0M607.1 509.9h0M588.9 510.8h0M570.9 524.4h0M589.7 552.6h0M595.4 509.5h0M694.5 527.6h0M574.0 531.6h0"/>
<path stroke="#b408a3" d="M594.3 552.7h0M592.6 551.4h0M601.0 514.3h0M654.8 527.0h0M594.6 518.8h0M611.5 496.7h0"/>
<path stroke="#c3009b" d="M624.2 542.9h0M625.3 530.5h0M620.4 542.8h0M611.4 521.2h0"/>
<path stroke="#5261e1" d="M592.3 535.1h0M599.9 509.8h0M618.2 531.5h0M601.7 527.0h0"/>
<path stroke="#008bfb" d="M621.1 527.0h0M735.9 527.0h0M752.6 527.0h0M576.3 530.4h0M591.6 513.1h0M621.2 505.4h0M572.0 532.2h0M566.1 529.4h0M530.4 527.3h0M635.8 531.5h0M584.9 520.1h0M597.8 543.1h0M596.9 508.6h0M614.5 520.0h0M620.8 546.3h0"/>
<path stroke="#007bf5" d="M607.5 547.5h0M700.3 527.1h0M581.8 537.4h0M525.3 526.8h0M623.5 522.5h0M601.8 521.2h0M751.6 527.0h0"/>
<path stroke="#f00073" d="M657.3 528.0h0"/>
<path stroke="#7b4acd" d="M593.8 530.5h0M588.6 516.6h0M585.7 545.5h0"/>
<path stroke="#a41daa" d="M592.2 507.2h0M609.7 507.2h0M607.3 548.6h0M581.3 509.7h0M675.2 527.0h0M591.2 522.4h0M610.0 535.2h0M576.4 521.3h0"/>
<path stroke="#c3009b" d="M570.1 525.7h0M590.9 518.9h0"/>
<path stroke="#8a3dc1" d="M504.1 527.1h0M476.5 527.0h0"/>
<path stroke="#6956d7" d="M598.6 506.4h0M616.1 541.1h0M586.8 513.2h0M600.4 547.6h0M584.3 514.3h0"/>
<path stroke="#fe005d" d="M659.0 530.1h0M658.0 523.9h0M669.8 527.0h0M608.1 533.8h0M627.5 540.8h0"/>
<path stroke="#0083f8" d="M594.5 546.9h0M562.2 528.1h0M613.6 516.4h0M597.3 548.8h0M579.5 513.5h0M625.2 539.7h0M599.4 528.1h0M627.6 542.0h0M590.4 525.8h0M638.7 531.5h0"/>
<path stroke="#ff0051" d="M609.3 503.7h0M637.1 528.1h0M596.9 541.0h0M609.9 530.5h0M628.8 528.1h0M614.6 525.8h0M593.6 502.4h0M633.9 524.8h0M617.6 498.7h0M609.9 546.8h0M663.4 528.9h0"/>
<path stroke="#962db4" d="M580.2 518.0h0M619.1 544.0h0M669.7 525.8h0"/>
<path stroke="#b408a3" d="M628.0 525.8h0M603.2 535.1h0M607.1 535.0h0M633.3 527.0h0M591.4 506.1h0M599.3 541.9h0M575.2 519.0h0M565.8 524.6h0M611.5 525.8h0M609.0 551.5h0M601.6 542.0h0"/>
<path stroke="#2f6ae9" d="M591.2 534.0h0"/>
<path stroke="#e7007e" d="M643.0 522.1h0M641.9 530.7h0"/>
<path stroke="#8a3dc1" d="M587.0 521.2h0"/>
<path stroke="#0073ef" d="M528.1 527.4h0"/>
<path stroke="#0083f8" d="M557.5 525.8h0M587.7 536.2h0M534.9 527.6h0M590.2 530.5h0M625.4 517.8h0M611.0 539.8h0M579.6 531.5h0M611.8 536.3h0M647.4 527.0h0M598.1 545.4h0M597.2 501.8h0M628.1 537.4h0M616.6 540.6h0M616.9 547.4h0M601.9 533.9h0M605.3 542.9h0"/>
<path stroke="#dd0088" d="M629.5 524.7h0"/>
<path stroke="#f00073" d="M638.3 521.4h0"/>
<path stroke="#007bf5" d="M589.8 539.8h0M633.0 533.7h0M626.1 518.9h0M560.5 527.0h0"/>
<path stroke="#962db4" d="M579.9 532.6h0M618.7 513.4h0M600.1 496.0h0"/>
<path stroke="#5261e1" d="M585.6 522.4h0M583.9 525.8h0"/>
<path stroke="#fe005d" d="M641.9 528.2h0M623.8 521.3h0M603.1 544.3h0"/>
<path stroke="#c3009b" d="M623.6 516.8h0M602.9 525.8h0M614.8 537.6h0M629.4 539.6h0M577.2 533.8h0M632.3 529.3h0"/>
<path stroke="#008bfb" d="M593.0 534.0h0M605.8 496.3h0M679.5 527.0h0M616.5 502.4h0M600.5 527.0h0M617.4 503.3h0M628.2 515.5h0M640.9 520.9h0M615.9 555.1h0M588.5 525.8h0M623.7 549.7h0"/>
<path stroke="#7b4acd" d="M592.8 515.4h0M476.1 527.0h0M597.8 552.2h0M593.3 537.5h0"/>
<path stroke="#b408a3" d="M595.8 531.7h0M593.3 557.4h0M596.9 543.4h0M629.0 522.4h0M625.6 535.1h0M599.8 546.5h0M626.2 532.8h0M588.6 538.5h0M620.3 539.4h0M598.8 504.1h0"/>
<path stroke="#6956d7" d="M593.4 529.3h0M489.2 527.0h0M589.2 509.6h0"/>
<path stroke="#a41daa" d="M569.7 529.6h0M618.5 504.4h0M578.7 540.5h0M610.2 514.2h0M585.6 518.9h0M604.9 531.5h0M601.0 545.4h0M585.2 507.4h0M590.3 546.8h0"/>
<path stroke="#ff0051" d="M597.0 512.1h0M607.5 497.4h0M604.0 492.4h0M625.0 531.6h0M615.3 501.2h0M628.0 544.3h0M609.0 497.8h0M657.4 525.0h0M621.7 538.4h0"/>
<path stroke="#b408a3" d="M616.2 556.3h0M589.2 545.6h0M591.2 516.5h0M612.6 500.0h0M617.9 522.5h0M581.4 532.8h0M602.8 491.3h0"/>
<path stroke="#fe005d" d="M610.2 541.0h0M631.8 521.3h0M605.2 494.0h0M653.2 524.1h0M634.9 518.1h0M597.8 519.0h0"/>
<path stroke="#a41daa" d="M583.4 516.6h0M588.5 523.5h0M609.0 517.7h0M598.9 494.9h0M601.8 553.5h0M587.0 520.1h0M621.5 503.1h0"/>
<path stroke="#e7007e" d="M657.5 527.0h0M643.0 529.5h0"/>
<path stroke="#ff0051" d="M608.9 529.3h0M667.5 527.9h0M659.3 526.0h0M594.5 538.7h0M617.5 519.1h0M620.8 528.1h0M606.2 498.6h0M616.6 545.1h0M615.6 548.1h0M641.3 524.5h0M621.5 540.6h0M648.0 530.2h0M612.3 509.5h0M602.6 560.4h0M644.9 523.8h0M676.6 526.0h0M601.4 508.6h0M647.9 522.7h0M615.1 554.0h0"/>
<path stroke="#dd0088" d="M636.4 529.2h0"/>
<path stroke="#2f6ae9" d="M611.2 527.0h0"/>
<path stroke="#962db4" d="M581.7 521.2h0M585.0 530.5h0M684.7 527.8h0"/>
<path stroke="#c3009b" d="M631.2 533.9h0"/>
<path stroke="#7b4acd" d="M599.3 493.7h0"/>
<path stroke="#007bf5" d="M615.3 497.7h0M545.8 528.0h0M599.9 549.9h0M620.7 520.2h0M594.0 496.6h0"/>
<path stroke="#f80068" d="M689.9 527.7h0"/>
<path stroke="#6956d7" d="M596.2 521.2h0M623.8 545.2h0M601.6 537.4h0M604.1 546.6h0M601.5 532.8h0M609.4 508.3h0M621.1 525.9h0"/>
<path stroke="#008bfb" d="M635.8 534.8h0M630.9 520.1h0M572.5 530.9h0M571.6 523.1h0M545.6 526.1h0M691.5 527.0h0M613.3 534.0h0M589.4 531.6h0M530.6 527.3h0M616.4 532.9h0M602.2 547.7h0M581.7 539.7h0"/>
<path stroke="#0083f8" d="M599.5 544.2h0M601.0 518.9h0M598.6 523.6h0M713.3 527.0h0M593.8 548.1h0M740.1 527.0h0M609.4 518.8h0M554.8 527.0h0M577.7 527.0h0M612.1 549.2h0"/>
<path stroke="#5261e1" d="M596.2 545.7h0M606.9 545.2h0M605.1 556.6h0M592.2 511.9h0"/>
<path stroke="#7b4acd" d="M617.8 538.3h0M483.6 527.0h0M604.7 562.7h0"/>
<path stroke="#a41daa" d="M605.6 555.4h0M581.6 510.9h0M589.7 517.7h0M594.2 511.8h0M604.5 504.0h0M597.4 499.5h0M613.0 515.3h0M608.4 538.4h0"/>
<path stroke="#ff0051" d="M607.5 520.2h0M644.6 524.9h0M616.9 541.7h0M615.8 542.2h0M634.3 528.1h0M599.5 559.1h0M636.6 520.3h0M632.6 537.0h0M621.3 507.7h0M665.3 526.1h0M620.7 514.5h0M624.5 529.3h0M620.5 505.5h0M614.4 524.7h0M617.5 511.2h0"/>
<path stroke="#c3009b" d="M608.7 516.5h0M614.5 530.5h0M621.9 513.4h0"/>
<path stroke="#2f6ae9" d="M596.5 513.0h0M615.4 511.8h0M603.3 499.4h0M609.5 537.5h0"/>
<path stroke="#8a3dc1" d="M627.3 521.2h0"/>
<path stroke="#962db4" d="M580.4 523.6h0M583.2 533.9h0M601.0 494.7h0M743.6 527.0h0M616.7 554.1h0M625.4 538.5h0"/>
<path stroke="#b408a3" d="M617.4 525.9h0M610.2 511.8h0M580.9 539.4h0M621.8 532.7h0M606.0 527.0h0M629.0 515.5h0M586.7 515.5h0M627.3 528.2h0M605.0 505.4h0"/>
<path stroke="#d10092" d="M622.8 544.1h0"/>
<path stroke="#6956d7" d="M613.1 504.7h0M604.5 530.5h0M606.9 517.9h0M594.5 551.6h0M487.0 526.9h0M613.7 527.0h0"/>
<path stroke="#fe005d" d="M592.1 538.6h0M620.0 536.0h0M635.3 523.7h0"/>
<path stroke="#f80068" d="M604.8 525.9h0"/>
<path stroke="#008bfb" d="M582.8 515.5h0M689.9 526.3h0M514.2 526.7h0M576.8 520.1h0M737.0 527.0h0M612.0 543.3h0M553.1 525.8h0"/>
<path stroke="#007bf5" d="M616.8 512.3h0M610.5 499.0h0M589.5 550.2h0M614.6 510.6h0M611.3 544.5h0"/>
<path stroke="#5261e1" d="M600.3 531.6h0M595.1 536.4h0"/>
<path stroke="#0083f8" d="M605.2 499.7h0M621.3 511.1h0M613.5 517.6h0M607.3 513.4h0M627.1 510.9h0M612.3 523.5h0M625.8 545.4h0M633.5 515.8h0M606.3 537.2h0M730.8 527.0h0M599.1 522.4h0M602.7 523.5h0M584.7 543.1h0"/>
<path stroke="#5261e1" d="M601.3 498.2h0M602.3 506.3h0M593.5 550.4h0M593.3 549.2h0"/>
<path stroke="#0073ef" d="M606.8 557.7h0"/>
<path stroke="#f00073" d="M691.5 526.4h0M660.1 526.0h0"/>
<path stroke="#6956d7" d="M617.9 549.6h0"/>
<path stroke="#c3009b" d="M614.4 528.2h0M633.6 525.9h0M626.5 524.7h0M583.7 528.2h0M589.9 510.7h0"/>
<path stroke="#008bfb" d="M578.3 515.7h0M600.8 529.3h0M561.6 529.2h0M593.4 539.9h0M562.6 527.0h0M707.6 527.0h0M570.9 521.8h0M655.1 529.0h0M623.5 524.7h0M593.8 514.1h0M510.9 527.2h0M607.9 506.5h0M597.2 500.6h0M605.1 512.2h0"/>
<path stroke="#dd0088" d="M627.9 543.1h0M646.8 529.1h0"/>
<path stroke="#fe005d" d="M605.3 495.2h0"/>
<path stroke="#962db4" d="M565.8 528.2h0M583.2 535.1h0"/>
<path stroke="#b408a3" d="M617.8 501.0h0M622.8 537.2h0M625.7 516.6h0M599.3 553.4h0M622.5 550.9h0M603.4 561.6h0M600.6 529.3h0M598.7 497.2h0M685.0 527.0h0"/>
<path stroke="#0083f8" d="M617.9 529.3h0M614.2 503.5h0M599.7 524.7h0M604.1 510.9h0M611.9 528.2h0M747.4 527.0h0M606.8 528.1h0M597.4 507.5h0M585.6 517.8h0M567.2 525.8h0M616.7 502.1h0M600.6 537.3h0M627.4 546.6h0M608.9 502.5h0"/>
<path stroke="#007bf5" d="M746.0 527.0h0M706.2 526.9h0M547.2 526.0h0M727.8 527.0h0M608.5 540.6h0M720.4 527.0h0M633.9 522.5h0M597.6 539.6h0M521.5 527.3h0M680.8 527.9h0"/>
<path stroke="#7b4acd" d="M616.7 548.5h0M472.3 527.0h0M480.6 527.0h0M597.0 492.6h0"/>
<path stroke="#a41daa" d="M631.0 530.4h0M585.3 514.3h0M588.8 512.0h0M627.8 523.5h0M586.6 509.7h0M600.3 555.7h0M611.1 532.8h0M608.2 507.7h0"/>
<path stroke="#ff0051" d="M616.9 506.6h0M620.4 530.4h0M598.1 520.1h0M633.0 520.3h0M612.0 504.8h0M578.7 530.4h0M616.9 555.3h0M639.4 533.7h0M642.0 525.8h0"/>
<path stroke="#8a3dc1" d="M474.2 527.0h0"/>
<path stroke="#8a3dc1" d="M630.0 514.4h0"/>
<path stroke="#b408a3" d="M605.4 514.5h0M600.9 551.2h0M613.3 498.9h0M594.0 504.8h0M598.3 533.9h0M607.8 503.1h0M612.2 555.0h0M578.8 524.7h0"/>
<path stroke="#ff0051" d="M671.7 528.2h0M655.1 528.0h0M622.8 541.8h0M612.3 500.2h0M654.9 525.0h0M610.8 534.0h0M615.9 512.9h0M622.1 523.6h0M652.9 526.0h0M618.2 524.7h0M602.4 517.8h0M613.2 535.2h0M631.5 519.0h0"/>
<path stroke="#fe005d" d="M612.9 514.1h0"/>
<path stroke="#c3009b" d="M622.4 531.5h0M615.4 549.3h0M610.2 538.7h0M624.1 529.3h0M605.7 544.1h0"/>
<path stroke="#7b4acd" d="M503.0 527.1h0M495.4 527.0h0"/>
<path stroke="#a41daa" d="M585.0 536.2h0M579.3 529.3h0M618.6 518.0h0M590.9 542.1h0M600.0 535.0h0M585.2 537.4h0M606.0 523.6h0"/>
<path stroke="#f00073" d="M650.1 526.0h0"/>
<path stroke="#5261e1" d="M603.0 528.2h0M590.7 504.9h0"/>
<path stroke="#007bf5" d="M673.5 528.0h0M621.6 533.8h0M537.9 527.0h0M607.6 504.3h0M605.0 550.9h0M681.6 526.1h0"/>
<path stroke="#6956d7" d="M602.2 552.3h0M608.1 524.7h0M492.6 527.1h0M609.6 522.3h0M589.3 502.6h0M618.3 510.0h0"/>
<path stroke="#008bfb" d="M612.7 521.1h0M755.0 527.0h0M554.1 528.3h0M602.5 531.6h0M587.4 532.8h0"/>
<path stroke="#0083f8" d="M576.0 522.4h0M626.3 509.7h0M585.7 524.7h0M604.6 540.8h0M606.4 546.3h0M651.7 524.1h0M605.4 519.0h0M639.5 524.8h0M510.7 527.0h0M577.3 525.9h0M601.7 515.5h0M607.0 554.3h0M581.8 522.4h0M613.7 543.4h0M572.6 528.3h0M598.0 554.5h0M520.7 526.9h0M609.4 545.7h0M586.9 546.6h0M740.3 527.0h0"/>
<path stroke="#962db4" d="M593.5 522.3h0M596.4 516.5h0M750.4 527.0h0"/>
<path stroke="#c3009b" d="M432.1 527.0h0"/>
<path stroke="#d10092" d="M436.6 527.0h0"/>
<path stroke="#f00073" d="M442.6 527.0h0"/>
<path stroke="#d10092" d="M447.6 527.0h0"/>
<path stroke="#a41daa" d="M452.2 527.0h0"/>
<path stroke="#008bfb" d="M790.5 527.0h0M794.7 527.0h0M797.5 527.0h0M806.6 527.0h0"/>
<path stroke="#c3009b" d="M815.3 527.0h0"/>
<path stroke="#008bfb" d="M817.0 527.0h0M821.9 527.0h0M827.2 527.0h0"/>
<path stroke="#007bf5" d="M608.9 642.3h0M602.9 636.6h0M586.6 632.1h0M604.9 659.7h0M563.0 628.7h0M589.6 634.5h0M607.6 652.6h0"/>
<path stroke="#962db4" d="M613.7 596.2h0M612.9 634.3h0M610.9 650.3h0M630.4 643.4h0"/>
<path stroke="#d10092" d="M600.6 628.5h0M604.1 634.3h0M602.4 646.0h0"/>
<path stroke="#6956d7" d="M596.1 652.3h0M602.6 607.5h0M613.1 655.2h0"/>
<path stroke="#fe005d" d="M641.0 623.0h0M632.6 627.5h0M622.4 610.0h0"/>
<path stroke="#f80068" d="M645.9 628.5h0M650.2 626.3h0"/>
<path stroke="#008bfb" d="M594.5 627.4h0M564.7 629.7h0M602.6 658.5h0M594.2 615.2h0M592.1 626.4h0"/>
<path stroke="#0083f8" d="M550.8 629.7h0M549.4 630.5h0M582.5 624.3h0M590.6 644.2h0M597.1 643.2h0M567.3 629.7h0M582.1 632.9h0M579.9 632.2h0M553.9 628.8h0M600.9 637.9h0M535.8 629.9h0M608.1 641.2h0"/>
<path stroke="#7b4acd" d="M601.5 615.7h0M610.5 620.5h0"/>
<path stroke="#dd0088" d="M614.2 649.4h0M608.9 636.6h0"/>
<path stroke="#c3009b" d="M596.4 609.4h0"/>
<path stroke="#ff0051" d="M624.1 629.7h0M641.9 627.5h0M640.8 635.3h0M647.1 634.6h0"/>
<path stroke="#0073ef" d="M593.2 619.7h0M597.6 650.0h0M584.9 629.7h0M615.4 641.4h0M603.0 617.0h0M615.8 646.1h0M618.5 611.0h0M599.8 648.4h0"/>
<path stroke="#b408a3" d="M609.2 657.2h0M617.9 653.1h0M620.8 606.5h0"/>
<path stroke="#2f6ae9" d="M596.0 646.6h0M615.1 659.0h0"/>
<path stroke="#5261e1" d="M604.6 628.5h0M602.5 601.7h0"/>
<path stroke="#8a3dc1" d="M616.4 655.5h0M615.4 639.1h0"/>
<path stroke="#e7007e" d="M630.0 625.1h0M677.4 629.7h0M621.5 607.6h0"/>
<path stroke="#f00073" d="M642.0 625.2h0M701.2 629.8h0"/>
<path stroke="#007bf5" d="M542.0 629.6h0M598.0 647.7h0M607.9 605.7h0"/>
<path stroke="#a41daa" d="M670.8 628.8h0M607.4 626.3h0M624.2 646.2h0M661.8 627.8h0M607.4 627.4h0M623.3 630.9h0"/>
<path stroke="#e7007e" d="M631.0 618.3h0M617.1 640.2h0M628.5 632.0h0"/>
<path stroke="#008bfb" d="M512.2 629.7h0M596.4 628.6h0M577.1 628.7h0M582.2 626.5h0M597.6 610.5h0M561.7 631.6h0M599.3 626.2h0M680.3 629.0h0M600.8 644.9h0M581.9 628.6h0M599.4 612.2h0M678.0 630.4h0M560.1 629.7h0"/>
<path stroke="#ff0051" d="M626.7 627.3h0M644.6 627.2h0M621.3 620.4h0"/>
<path stroke="#b408a3" d="M615.0 651.7h0"/>
<path stroke="#5261e1" d="M625.8 648.6h0M599.0 641.4h0"/>
<path stroke="#c3009b" d="M615.4 643.7h0M608.6 598.8h0M712.8 629.7h0"/>
<path stroke="#f00073" d="M630.2 642.2h0M630.7 621.7h0M642.2 628.6h0M630.0 630.8h0"/>
<path stroke="#0073ef" d="M589.7 641.7h0M603.3 633.2h0M595.3 626.3h0"/>
<path stroke="#8a3dc1" d="M617.6 630.9h0M612.8 625.1h0M622.1 650.6h0"/>
<path stroke="#0083f8" d="M591.9 630.8h0M595.3 608.3h0M577.6 630.7h0M603.9 610.1h0M601.5 625.0h0M601.9 604.0h0M600.1 653.0h0M599.6 658.9h0M529.6 629.7h0M594.4 625.2h0M604.2 611.3h0"/>
<path stroke="#f80068" d="M635.2 629.7h0"/>
<path stroke="#dd0088" d="M620.9 649.4h0M611.1 645.9h0M630.3 635.4h0M617.7 644.9h0"/>
<path stroke="#fe005d" d="M619.0 633.2h0M624.6 628.5h0"/>
<path stroke="#962db4" d="M612.8 601.9h0M607.9 610.2h0"/>
<path stroke="#d10092" d="M611.4 603.1h0M603.1 635.5h0M601.0 636.7h0M611.9 604.2h0M599.2 609.9h0"/>
<path stroke="#7b4acd" d="M593.6 642.0h0"/>
<path stroke="#7b4acd" d="M619.2 641.3h0M613.7 647.1h0"/>
<path stroke="#0083f8" d="M598.0 635.3h0M594.0 646.4h0M598.5 643.7h0M527.2 629.7h0M595.9 624.1h0M581.9 635.1h0M604.3 630.9h0"/>
<path stroke="#0073ef" d="M589.1 639.3h0M608.1 638.9h0M599.3 642.5h0M594.5 607.1h0M614.4 642.4h0M613.2 623.9h0"/>
<path stroke="#e7007e" d="M617.6 626.2h0M695.6 629.6h0M611.8 635.5h0M633.6 623.0h0M624.1 634.4h0M617.1 657.8h0M625.2 645.1h0M623.4 623.9h0M609.9 612.5h0"/>
<path stroke="#fe005d" d="M633.4 638.6h0M643.3 624.1h0"/>
<path stroke="#6956d7" d="M707.2 629.7h0M598.9 650.7h0"/>
<path stroke="#8a3dc1" d="M618.7 605.1h0M715.1 629.7h0M618.7 635.6h0M611.7 648.2h0M617.5 600.4h0M610.4 628.6h0"/>
<path stroke="#d10092" d="M613.8 615.8h0"/>
<path stroke="#5261e1" d="M608.3 622.8h0M621.8 615.8h0"/>
<path stroke="#008bfb" d="M590.5 616.3h0M578.7 623.6h0M604.8 608.9h0M595.1 639.8h0M593.4 640.9h0M585.8 637.3h0"/>
<path stroke="#dd0088" d="M706.7 629.7h0M620.2 635.5h0"/>
<path stroke="#b408a3" d="M616.3 603.9h0M605.4 649.3h0"/>
<path stroke="#ff0051" d="M642.3 634.2h0M640.0 636.6h0M656.0 628.7h0M635.8 622.8h0M627.2 620.2h0M635.3 631.9h0M641.9 633.1h0M627.3 632.1h0M652.0 628.6h0"/>
<path stroke="#962db4" d="M617.1 615.7h0"/>
<path stroke="#f00073" d="M617.8 616.8h0M632.1 621.9h0"/>
<path stroke="#a41daa" d="M628.6 629.7h0M624.7 633.2h0"/>
<path stroke="#c3009b" d="M609.5 653.7h0M621.0 616.9h0M613.7 662.1h0"/>
<path stroke="#007bf5" d="M592.1 638.6h0M607.9 630.8h0M586.2 633.3h0M605.4 621.6h0M605.6 648.1h0M608.0 651.5h0"/>
<path stroke="#5261e1" d="M609.8 595.3h0M601.7 634.4h0"/>
<path stroke="#f80068" d="M638.7 620.5h0M637.6 635.5h0"/>
<path stroke="#e7007e" d="M620.1 651.8h0M637.4 629.7h0"/>
<path stroke="#f00073" d="M635.6 633.0h0M632.8 620.8h0M636.7 626.2h0"/>
<path stroke="#0083f8" d="M609.8 599.9h0M597.5 606.0h0M595.1 636.5h0"/>
<path stroke="#007bf5" d="M519.1 629.7h0M553.0 630.6h0M607.4 606.8h0M604.1 595.1h0M603.4 642.4h0"/>
<path stroke="#ff0051" d="M639.8 630.9h0M620.5 625.1h0M648.0 629.7h0M644.2 633.4h0M633.3 643.1h0M640.1 621.8h0M622.8 614.6h0"/>
<path stroke="#a41daa" d="M662.6 629.7h0M624.1 626.2h0"/>
<path stroke="#fe005d" d="M641.1 626.3h0"/>
<path stroke="#c3009b" d="M614.3 617.0h0M608.4 633.1h0M615.3 620.3h0M606.6 629.7h0M619.6 608.8h0M605.5 597.4h0"/>
<path stroke="#008bfb" d="M589.9 620.1h0M599.5 622.7h0M563.1 630.7h0M586.2 626.1h0M593.7 624.1h0M601.6 651.9h0M571.3 631.3h0M587.5 627.3h0M592.2 639.7h0M586.1 638.1h0"/>
<path stroke="#dd0088" d="M616.1 651.9h0M623.2 629.7h0M614.3 611.2h0"/>
<path stroke="#8a3dc1" d="M612.0 605.4h0M628.0 626.3h0M618.4 628.5h0"/>
<path stroke="#b408a3" d="M608.3 613.7h0M613.7 626.2h0M620.6 646.0h0M608.5 661.8h0"/>
<path stroke="#7b4acd" d="M593.5 628.6h0M637.6 625.1h0M606.6 615.9h0M615.5 649.6h0"/>
<path stroke="#0073ef" d="M608.4 660.6h0M587.4 636.9h0M590.6 618.5h0"/>
<path stroke="#6956d7" d="M617.7 621.5h0M600.0 654.2h0"/>
<path stroke="#d10092" d="M618.1 629.7h0M611.3 632.0h0M619.4 647.1h0M611.0 618.1h0M597.3 616.2h0"/>
<path stroke="#962db4" d="M609.1 666.3h0M656.5 631.6h0"/>
<path stroke="#2f6ae9" d="M704.0 629.7h0"/>
<path stroke="#a41daa" d="M657.7 628.2h0M608.2 648.0h0M652.9 630.7h0M610.6 618.2h0"/>
<path stroke="#ff0051" d="M626.3 623.8h0M633.4 617.4h0M640.2 629.7h0M619.8 644.8h0M638.4 638.9h0M628.5 633.1h0M626.5 643.9h0M626.6 617.9h0M623.7 622.6h0"/>
<path stroke="#fe005d" d="M621.5 628.5h0M633.5 640.8h0"/>
<path stroke="#8a3dc1" d="M693.5 629.7h0M618.6 609.8h0M609.0 617.1h0M616.9 602.8h0"/>
<path stroke="#e7007e" d="M620.8 618.1h0M630.6 645.6h0M634.5 628.6h0"/>
<path stroke="#6956d7" d="M597.3 615.0h0M590.8 620.8h0"/>
<path stroke="#dd0088" d="M618.8 632.0h0"/>
<path stroke="#008bfb" d="M574.5 626.8h0M667.6 630.6h0M595.7 651.1h0M583.2 622.1h0M522.6 629.7h0M671.1 629.7h0M584.1 631.9h0M548.0 629.0h0M516.5 629.7h0"/>
<path stroke="#0083f8" d="M604.0 602.0h0M609.1 594.2h0M596.1 629.7h0M594.3 618.4h0M593.1 645.3h0M596.0 642.1h0"/>
<path stroke="#b408a3" d="M640.8 630.8h0"/>
<path stroke="#f00073" d="M646.1 623.5h0"/>
<path stroke="#d10092" d="M611.5 652.8h0"/>
<path stroke="#007bf5" d="M607.4 646.9h0M547.6 629.7h0M525.2 629.6h0M546.2 630.4h0M601.7 602.9h0M560.3 630.6h0M600.8 599.4h0"/>
<path stroke="#0073ef" d="M594.4 612.8h0M604.1 604.3h0M617.7 618.0h0"/>
<path stroke="#f80068" d="M638.3 619.3h0M639.6 634.3h0"/>
<path stroke="#7b4acd" d="M597.9 617.3h0M649.4 627.5h0"/>
<path stroke="#962db4" d="M614.4 650.5h0M623.6 621.4h0M629.5 617.2h0M612.9 622.8h0M612.7 637.8h0"/>
<path stroke="#5261e1" d="M602.8 632.0h0M614.4 614.7h0M602.8 614.7h0M606.0 600.9h0"/>
<path stroke="#2f6ae9" d="M604.1 652.8h0M595.3 620.7h0M591.6 637.5h0"/>
<path stroke="#c3009b" d="M608.7 632.0h0"/>
<path stroke="#dd0088" d="M599.6 629.7h0M630.6 641.1h0"/>
<path stroke="#008bfb" d="M575.8 627.8h0M570.7 629.7h0M680.4 629.7h0"/>
<path stroke="#2f6ae9" d="M615.2 647.3h0M597.9 613.9h0"/>
<path stroke="#b408a3" d="M618.3 613.3h0M628.2 636.5h0M626.6 616.7h0"/>
<path stroke="#7b4acd" d="M622.4 648.3h0M604.2 651.6h0"/>
<path stroke="#0083f8" d="M600.9 605.2h0M600.8 600.5h0M589.0 624.9h0M606.0 627.4h0M523.6 629.7h0M601.8 619.2h0M601.6 613.4h0"/>
<path stroke="#e7007e" d="M623.5 639.2h0M634.4 636.4h0"/>
<path stroke="#5261e1" d="M605.8 655.1h0"/>
<path stroke="#962db4" d="M627.2 610.8h0M641.0 631.9h0M609.6 597.6h0M608.5 640.0h0M676.6 628.9h0"/>
<path stroke="#fe005d" d="M639.7 627.4h0M634.4 635.3h0"/>
<path stroke="#f00073" d="M632.4 642.0h0M650.1 631.9h0M614.9 660.9h0M625.0 641.5h0"/>
<path stroke="#0073ef" d="M619.8 613.4h0M601.7 623.9h0M609.2 596.5h0M579.6 634.6h0M582.0 634.0h0M597.6 644.4h0M619.3 632.0h0"/>
<path stroke="#8a3dc1" d="M622.9 611.1h0M659.9 631.2h0"/>
<path stroke="#d10092" d="M620.3 619.3h0"/>
<path stroke="#a41daa" d="M611.8 620.4h0M604.5 645.8h0M630.4 616.0h0M613.1 598.5h0M603.4 650.5h0"/>
<path stroke="#c3009b" d="M612.4 636.6h0M613.3 597.3h0M603.0 599.7h0M614.5 621.6h0"/>
<path stroke="#007bf5" d="M607.6 665.2h0M584.3 630.8h0M581.0 628.5h0M604.5 657.4h0M613.9 608.9h0"/>
<path stroke="#6956d7" d="M606.3 620.5h0M597.5 621.8h0M623.8 647.4h0"/>
<path stroke="#ff0051" d="M646.0 626.0h0M626.7 635.6h0M625.5 625.0h0M621.5 642.5h0M625.4 636.8h0M639.6 640.1h0M646.0 624.8h0M637.4 633.2h0M623.3 621.6h0M627.7 638.8h0"/>
<path stroke="#c3009b" d="M608.2 621.7h0M613.8 628.5h0M619.8 622.7h0"/>
<path stroke="#962db4" d="M603.2 653.9h0M605.5 623.9h0M615.5 634.4h0M609.9 643.4h0M639.3 641.2h0"/>
<path stroke="#007bf5" d="M593.5 621.9h0M567.0 631.1h0M607.7 609.1h0M589.4 640.5h0M550.4 628.9h0"/>
<path stroke="#0073ef" d="M599.2 618.0h0M596.4 619.6h0M600.8 640.2h0M612.3 663.2h0M598.5 627.4h0"/>
<path stroke="#ff0051" d="M638.2 637.8h0M626.9 615.5h0M628.1 634.3h0M623.6 640.3h0M633.5 634.2h0M621.9 643.6h0"/>
<path stroke="#7b4acd" d="M612.9 659.8h0M614.0 613.5h0"/>
<path stroke="#dd0088" d="M617.0 612.1h0M609.3 654.9h0"/>
<path stroke="#b408a3" d="M614.5 612.3h0M604.7 625.1h0"/>
<path stroke="#5261e1" d="M607.4 611.4h0M605.8 662.0h0M716.6 629.7h0M603.5 598.6h0"/>
<path stroke="#f80068" d="M642.1 637.6h0M636.4 632.0h0M651.9 625.2h0"/>
<path stroke="#d10092" d="M619.1 656.6h0M604.2 596.3h0"/>
<path stroke="#fe005d" d="M638.8 623.9h0M632.7 615.2h0"/>
<path stroke="#0083f8" d="M578.5 630.9h0M598.4 611.7h0M607.4 601.1h0M603.6 641.2h0"/>
<path stroke="#e7007e" d="M611.2 633.2h0M634.4 618.6h0M623.1 652.9h0"/>
<path stroke="#6956d7" d="M603.5 638.9h0M612.6 654.0h0M586.3 622.5h0M601.3 616.9h0M609.5 637.7h0"/>
<path stroke="#8a3dc1" d="M616.4 625.0h0M647.2 630.9h0"/>
<path stroke="#008bfb" d="M603.4 605.5h0M591.9 613.0h0M668.9 629.7h0M596.6 648.9h0M588.0 630.9h0M582.8 627.5h0M589.7 617.7h0M581.3 635.8h0M596.9 638.7h0M584.4 625.4h0M561.5 627.8h0M602.3 647.2h0M590.2 629.7h0M605.5 603.2h0M596.7 633.1h0"/>
<path stroke="#5261e1" d="M601.5 614.5h0M604.7 656.2h0M599.6 633.2h0"/>
<path stroke="#6956d7" d="M618.7 601.6h0M610.3 649.2h0M599.2 639.0h0"/>
<path stroke="#8a3dc1" d="M608.3 604.5h0M626.7 619.1h0M604.5 663.1h0"/>
<path stroke="#007bf5" d="M587.3 628.5h0M566.4 628.3h0M613.5 644.7h0M590.9 623.0h0"/>
<path stroke="#0073ef" d="M625.9 649.8h0M590.1 623.7h0M537.7 629.5h0M610.8 619.4h0M597.8 630.8h0M592.0 614.1h0M590.5 627.5h0M597.1 653.4h0"/>
<path stroke="#dd0088" d="M618.6 650.8h0M614.1 640.1h0"/>
<path stroke="#7b4acd" d="M685.4 629.2h0"/>
<path stroke="#ff0051" d="M652.0 634.2h0M630.3 637.7h0M629.2 624.0h0M656.0 629.7h0"/>
<path stroke="#008bfb" d="M593.3 631.9h0M602.3 635.5h0M579.1 633.4h0M590.3 634.2h0M687.3 629.8h0M582.7 623.2h0M598.0 645.5h0M554.8 629.7h0M590.7 635.3h0M600.6 620.4h0M579.5 627.2h0"/>
<path stroke="#e7007e" d="M615.4 622.7h0M612.9 630.9h0M629.6 620.6h0M609.8 662.9h0M673.0 630.6h0"/>
<path stroke="#962db4" d="M627.7 628.6h0M604.9 644.7h0M617.3 619.2h0M620.5 612.3h0"/>
<path stroke="#fe005d" d="M640.1 638.7h0M635.1 644.2h0M632.8 626.4h0"/>
<path stroke="#a41daa" d="M625.2 612.0h0M605.7 626.2h0"/>
<path stroke="#0083f8" d="M579.0 626.0h0M590.0 635.7h0"/>
<path stroke="#b408a3" d="M612.1 629.7h0M612.4 599.6h0M610.9 625.1h0M620.8 634.3h0"/>
<path stroke="#f80068" d="M646.3 632.2h0M634.3 637.5h0M646.5 635.9h0"/>
<path stroke="#d10092" d="M605.2 637.8h0M614.6 639.0h0M702.6 629.8h0"/>
<path stroke="#c3009b" d="M616.6 648.4h0M607.9 593.1h0M620.8 639.0h0M601.4 621.5h0M596.8 641.0h0"/>
<path stroke="#0073ef" d="M614.1 641.3h0M616.6 606.3h0"/>
<path stroke="#d10092" d="M697.0 629.5h0M690.2 630.0h0"/>
<path stroke="#7b4acd" d="M610.1 659.5h0M606.4 622.8h0M617.8 637.9h0"/>
<path stroke="#008bfb" d="M600.5 660.0h0M577.2 629.7h0M595.7 637.6h0M603.1 618.2h0M513.4 629.7h0M597.2 634.2h0M600.6 608.7h0M592.5 636.4h0M575.7 632.6h0M594.0 625.2h0"/>
<path stroke="#e7007e" d="M610.2 656.0h0"/>
<path stroke="#8a3dc1" d="M618.6 636.7h0M627.5 613.2h0M664.6 628.8h0M611.8 600.8h0M710.9 629.7h0M617.3 607.5h0M606.8 619.3h0"/>
<path stroke="#fe005d" d="M640.7 636.4h0"/>
<path stroke="#dd0088" d="M618.4 627.4h0"/>
<path stroke="#0083f8" d="M578.2 629.7h0M573.1 628.1h0M536.4 629.9h0M601.7 649.5h0M509.2 629.7h0M598.1 632.0h0"/>
<path stroke="#f00073" d="M684.5 629.3h0"/>
<path stroke="#007bf5" d="M605.9 613.6h0M607.9 603.4h0M544.0 629.7h0M598.8 611.0h0M605.4 606.6h0M534.4 629.9h0M590.8 643.1h0"/>
<path stroke="#ff0051" d="M623.9 609.6h0M631.1 644.5h0M638.1 618.2h0M633.8 619.7h0M634.0 616.3h0M632.8 624.1h0M633.8 630.8h0"/>
<path stroke="#962db4" d="M665.8 628.8h0M661.1 630.6h0M611.2 606.6h0M610.7 624.0h0M613.9 658.6h0"/>
<path stroke="#a41daa" d="M607.5 614.8h0M610.6 602.2h0M610.7 658.3h0M608.5 645.7h0M649.4 633.1h0"/>
<path stroke="#5261e1" d="M609.1 629.7h0M622.8 636.7h0M610.4 644.6h0"/>
<path stroke="#f80068" d="M639.6 628.5h0M637.5 621.6h0"/>
<path stroke="#b408a3" d="M622.6 637.8h0M618.7 608.6h0"/>
<path stroke="#6956d7" d="M612.9 610.0h0M605.4 664.3h0M596.2 622.9h0"/>
<path stroke="#c3009b" d="M610.3 635.4h0M619.5 640.1h0"/>
<path stroke="#a41daa" d="M628.3 614.9h0M607.6 634.3h0M612.1 627.4h0M651.2 630.8h0M603.6 640.1h0"/>
<path stroke="#e7007e" d="M627.0 638.0h0"/>
<path stroke="#008bfb" d="M589.9 621.3h0M593.2 633.0h0M689.8 629.7h0M674.0 630.5h0M576.3 631.6h0M591.3 617.4h0M602.6 630.9h0M557.4 628.8h0M581.4 624.8h0"/>
<path stroke="#ff0051" d="M629.2 639.9h0M630.8 622.9h0M652.0 629.7h0M635.4 639.7h0M635.0 625.2h0M630.0 627.4h0"/>
<path stroke="#dd0088" d="M617.7 654.3h0"/>
<path stroke="#b408a3" d="M620.4 633.2h0M614.4 643.6h0M612.6 657.5h0M614.7 656.3h0M622.2 626.2h0"/>
<path stroke="#962db4" d="M615.5 623.8h0M624.4 630.9h0M626.8 642.7h0M622.6 627.4h0M618.0 642.6h0"/>
<path stroke="#7b4acd" d="M628.1 619.5h0M657.2 629.7h0M602.5 655.4h0"/>
<path stroke="#c3009b" d="M602.5 656.5h0"/>
<path stroke="#0073ef" d="M598.9 657.7h0M589.9 629.7h0"/>
<path stroke="#6956d7" d="M604.0 643.5h0M611.9 607.7h0M611.0 619.3h0"/>
<path stroke="#5261e1" d="M604.6 612.4h0M626.3 614.3h0M608.3 616.0h0M604.5 607.8h0"/>
<path stroke="#007bf5" d="M603.8 660.8h0M583.3 636.2h0M604.5 647.0h0M607.6 607.9h0M602.1 606.4h0M587.4 618.9h0"/>
<path stroke="#d10092" d="M662.2 631.6h0"/>
<path stroke="#8a3dc1" d="M653.9 627.8h0M699.1 629.7h0M608.2 664.1h0"/>
<path stroke="#fe005d" d="M618.2 614.5h0M643.3 620.7h0M628.6 613.8h0"/>
<path stroke="#0083f8" d="M531.9 629.6h0M598.8 632.0h0M507.9 629.7h0"/>
<path stroke="#008bfb" d="M413.6 629.7h0M424.3 629.7h0M465.4 629.7h0M470.0 629.7h0M473.6 629.7h0"/>
<path stroke="#007bf5" d="M488.8 629.7h0"/>
<path stroke="#fe005d" d="M745.0 629.7h0"/>
<path stroke="#a41daa" d="M741.0 629.7h0"/>
<path stroke="#7b4acd" d="M765.5 629.7h0"/>
<path stroke="#dd0088" d="M778.2 629.7h0M803.5 629.7h0"/>
<path stroke="#7b4acd" d="M829.3 629.7h0"/>
</g>
<line x1="200.3" y1="731.6" x2="1483.3" y2="731.6" stroke="#000" stroke-width="2.3" stroke-linecap="square"/>
<line x1="337.6" y1="731.4" x2="337.6" y2="742.8" stroke="#333" stroke-width="2.4"/>
<text class="t" x="336.9" y="782.2" font-size="35.85" text-anchor="middle">−20</text>
<line x1="608.6" y1="731.4" x2="608.6" y2="742.8" stroke="#333" stroke-width="2.4"/>
<text class="t" x="608.6" y="782.2" font-size="35.85" text-anchor="middle">0</text>
<line x1="879.6" y1="731.4" x2="879.6" y2="742.8" stroke="#333" stroke-width="2.4"/>
<text class="t" x="879.6" y="782.2" font-size="35.85" text-anchor="middle">20</text>
<line x1="1150.5" y1="731.4" x2="1150.5" y2="742.8" stroke="#333" stroke-width="2.4"/>
<text class="t" x="1150.5" y="782.2" font-size="35.85" text-anchor="middle">40</text>
<line x1="1421.5" y1="731.4" x2="1421.5" y2="742.8" stroke="#333" stroke-width="2.4"/>
<text class="t" x="1421.5" y="782.2" font-size="35.85" text-anchor="middle">60</text>
<text class="t" x="124.3" y="133.8" font-size="42.4" text-anchor="end">FA</text>
<text class="t" x="124.3" y="236.3" font-size="42.4" text-anchor="end">LAIHV</text>
<text class="t" x="124.3" y="338.8" font-size="42.4" text-anchor="end">PBLH</text>
<text class="t" x="124.3" y="441.2" font-size="42.4" text-anchor="end">SP</text>
<text class="t" x="124.3" y="544.1" font-size="42.4" text-anchor="end">T2M</text>
<text class="t" x="124.3" y="646.1" font-size="42.4" text-anchor="end">TQV</text>
<text class="k" x="841.9" y="835.5" font-size="42.33" text-anchor="middle">SHAP value (impact on model output)</text>
<rect x="1563.3" y="15.0" width="8.6" height="716.4" fill="url(#cb)"/>
<text class="k" x="1583.2" y="28.4" font-size="35.85">High</text>
<text class="k" x="1583.2" y="744.9" font-size="35.85">Low</text>
<text class="k" transform="translate(1695.4 373.5) rotate(-90)" font-size="39.0" text-anchor="middle">Feature value</text>
<text class="s" aria-label="(a)" y="909.9" font-size="46.7"><tspan x="829.0" y="907.0" font-size="42.9">(</tspan><tspan x="844.3" y="909.9">a</tspan><tspan x="867.6" y="907.0" font-size="42.9">)</tspan></text>
</g>
<g id="bars">
<rect x="139.9" y="956.6" width="2.5" height="694.5" fill="#999"/>
<rect x="139.9" y="1020.8" width="1498.5" height="69.5" fill="#008bfb"/>
<text class="t" x="118.1" y="1070.9" font-size="40.3" text-anchor="end">FA</text>
<rect x="139.9" y="1120.1" width="664.6" height="69.5" fill="#008bfb"/>
<text class="t" x="118.1" y="1170.1" font-size="40.3" text-anchor="end">LAIHV</text>
<rect x="139.9" y="1219.3" width="575.5" height="69.5" fill="#008bfb"/>
<text class="t" x="118.1" y="1269.4" font-size="40.3" text-anchor="end">PBLH</text>
<rect x="139.9" y="1318.5" width="374.1" height="69.5" fill="#008bfb"/>
<text class="t" x="118.1" y="1368.6" font-size="40.3" text-anchor="end">SP</text>
<rect x="139.9" y="1417.8" width="340.3" height="69.5" fill="#008bfb"/>
<text class="t" x="118.1" y="1467.8" font-size="40.3" text-anchor="end">T2M</text>
<rect x="139.9" y="1517.0" width="295.4" height="69.5" fill="#008bfb"/>
<text class="t" x="118.1" y="1567.0" font-size="40.3" text-anchor="end">TQV</text>
<line x1="140.2" y1="1651.1" x2="1713.3" y2="1651.1" stroke="#000" stroke-width="2.5" stroke-linecap="square"/>
<line x1="139.9" y1="1651.1" x2="139.9" y2="1662.4" stroke="#333" stroke-width="2.4"/>
<text class="t" x="139.9" y="1699" font-size="34.1" text-anchor="middle">0</text>
<line x1="389.2" y1="1651.1" x2="389.2" y2="1662.4" stroke="#333" stroke-width="2.4"/>
<text class="t" x="389.2" y="1699" font-size="34.1" text-anchor="middle">1</text>
<line x1="638.5" y1="1651.1" x2="638.5" y2="1662.4" stroke="#333" stroke-width="2.4"/>
<text class="t" x="638.5" y="1699" font-size="34.1" text-anchor="middle">2</text>
<line x1="887.9" y1="1651.1" x2="887.9" y2="1662.4" stroke="#333" stroke-width="2.4"/>
<text class="t" x="887.9" y="1699" font-size="34.1" text-anchor="middle">3</text>
<line x1="1137.2" y1="1651.1" x2="1137.2" y2="1662.4" stroke="#333" stroke-width="2.4"/>
<text class="t" x="1137.2" y="1699" font-size="34.1" text-anchor="middle">4</text>
<line x1="1386.5" y1="1651.1" x2="1386.5" y2="1662.4" stroke="#333" stroke-width="2.4"/>
<text class="t" x="1386.5" y="1699" font-size="34.1" text-anchor="middle">5</text>
<line x1="1635.8" y1="1651.1" x2="1635.8" y2="1662.4" stroke="#333" stroke-width="2.4"/>
<text class="t" x="1635.8" y="1699" font-size="34.1" text-anchor="middle">6</text>
<text class="k" x="927.0" y="1748.6" font-size="40.21" text-anchor="middle">mean(|SHAP value|) (average impact on model output magnitude)</text>
<text class="s" aria-label="(b)" y="1828.7" font-size="46.7"><tspan x="828.2" y="1825.8" font-size="42.9">(</tspan><tspan x="843.9" y="1828.7">b</tspan><tspan x="869.0" y="1825.8" font-size="42.9">)</tspan></text>
</g>
</svg></body></html>
